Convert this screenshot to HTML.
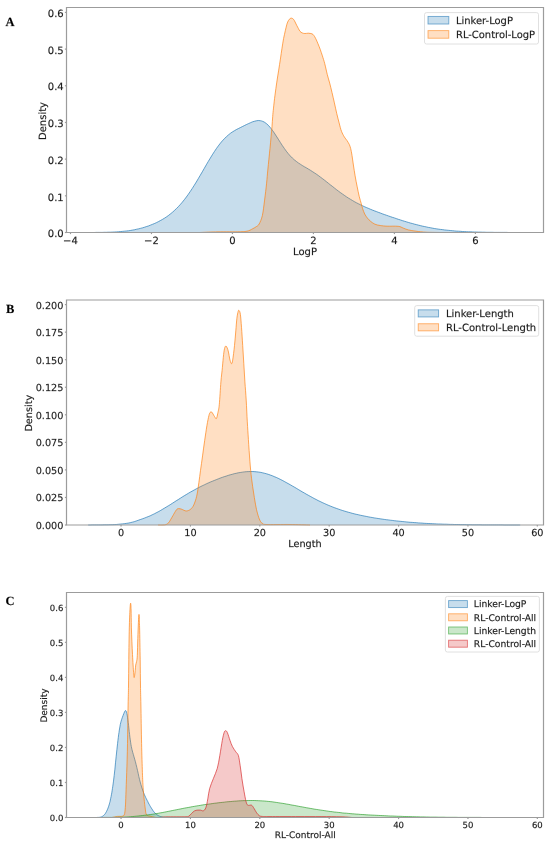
<!DOCTYPE html>
<html><head><meta charset="utf-8"><title>KDE plots</title>
<style>html,body{margin:0;padding:0;background:#fff;}svg{display:block;}</style></head><body>
<svg width="550" height="846" viewBox="0 0 550 846" style="font-family:'DejaVu Sans','Liberation Sans',sans-serif">
<style>text{fill:#1a1a1a;stroke:#1a1a1a;stroke-width:0.25px;stroke-opacity:0.60;text-rendering:geometricPrecision}</style>
<rect width="550" height="846" fill="#fff"/>
<path d="M88.3,232.5 C88.6,232.5 89.6,232.5 90.3,232.5 C91.0,232.5 91.6,232.5 92.3,232.5 C93.0,232.5 93.6,232.5 94.3,232.5 C95.0,232.5 95.6,232.4 96.3,232.4 C97.0,232.4 97.6,232.4 98.3,232.4 C99.0,232.4 99.6,232.4 100.3,232.4 C101.0,232.4 101.6,232.4 102.3,232.4 C103.0,232.4 103.6,232.4 104.3,232.3 C105.0,232.3 105.6,232.3 106.3,232.3 C107.0,232.3 107.6,232.3 108.3,232.2 C109.0,232.2 109.6,232.2 110.3,232.2 C111.0,232.2 111.6,232.1 112.3,232.1 C113.0,232.1 113.6,232.0 114.3,232.0 C115.0,232.0 115.6,231.9 116.3,231.9 C117.0,231.9 117.6,231.8 118.3,231.8 C119.0,231.7 119.6,231.7 120.3,231.6 C121.0,231.6 121.6,231.5 122.3,231.4 C123.0,231.4 123.6,231.3 124.3,231.2 C125.0,231.2 125.6,231.1 126.3,231.0 C127.0,230.9 127.6,230.8 128.3,230.8 C129.0,230.7 129.6,230.6 130.3,230.5 C131.0,230.4 131.6,230.2 132.3,230.1 C133.0,230.0 133.6,229.9 134.3,229.8 C135.0,229.6 135.6,229.5 136.3,229.3 C137.0,229.2 137.6,229.1 138.3,228.9 C139.0,228.7 139.6,228.6 140.3,228.4 C141.0,228.2 141.6,228.1 142.3,227.9 C143.0,227.7 143.6,227.5 144.3,227.3 C145.0,227.1 145.6,226.9 146.3,226.6 C147.0,226.4 147.6,226.2 148.3,226.0 C149.0,225.7 149.6,225.5 150.3,225.2 C151.0,225.0 151.6,224.7 152.3,224.4 C153.0,224.2 153.6,223.9 154.3,223.6 C155.0,223.3 155.6,223.0 156.3,222.7 C157.0,222.4 157.6,222.0 158.3,221.7 C159.0,221.4 159.6,221.0 160.3,220.6 C161.0,220.3 161.6,219.9 162.3,219.5 C163.0,219.1 163.6,218.7 164.3,218.3 C165.0,217.9 165.6,217.4 166.3,217.0 C167.0,216.5 167.6,216.1 168.3,215.6 C169.0,215.1 169.6,214.6 170.3,214.0 C171.0,213.5 171.6,213.0 172.3,212.4 C173.0,211.8 173.6,211.3 174.3,210.6 C175.0,210.0 175.6,209.4 176.3,208.7 C177.0,208.1 177.6,207.4 178.3,206.7 C179.0,206.0 179.6,205.3 180.3,204.5 C181.0,203.8 181.6,203.0 182.3,202.2 C183.0,201.4 183.6,200.6 184.3,199.7 C185.0,198.9 185.6,198.0 186.3,197.1 C187.0,196.2 187.6,195.3 188.3,194.3 C189.0,193.4 189.6,192.4 190.3,191.4 C191.0,190.4 191.6,189.4 192.3,188.4 C193.0,187.4 193.6,186.3 194.3,185.2 C195.0,184.2 195.6,183.1 196.3,182.0 C197.0,180.9 197.6,179.8 198.3,178.6 C199.0,177.5 199.6,176.4 200.3,175.2 C201.0,174.1 201.6,172.9 202.3,171.8 C203.0,170.6 203.6,169.5 204.3,168.3 C205.0,167.1 205.6,166.0 206.3,164.8 C207.0,163.7 207.6,162.6 208.3,161.4 C209.0,160.3 209.6,159.2 210.3,158.1 C211.0,157.0 211.6,155.9 212.3,154.8 C213.0,153.8 213.6,152.7 214.3,151.7 C215.0,150.7 215.6,149.7 216.3,148.7 C217.0,147.8 217.6,146.9 218.3,145.9 C219.0,145.0 219.6,144.2 220.3,143.3 C221.0,142.5 221.6,141.7 222.3,140.9 C223.0,140.2 223.6,139.4 224.3,138.8 C225.0,138.1 225.6,137.4 226.3,136.8 C227.0,136.2 227.6,135.6 228.3,135.0 C229.0,134.5 229.6,133.9 230.3,133.4 C231.0,132.9 231.6,132.5 232.3,132.0 C233.0,131.6 233.6,131.2 234.3,130.8 C235.0,130.4 235.6,130.0 236.3,129.6 C237.0,129.3 237.6,128.9 238.3,128.6 C239.0,128.2 239.6,127.9 240.3,127.6 C241.0,127.2 241.6,126.9 242.3,126.6 C243.0,126.3 243.6,125.9 244.3,125.6 C245.0,125.3 245.6,125.0 246.3,124.6 C247.0,124.3 247.6,124.0 248.3,123.7 C249.0,123.4 249.6,123.1 250.3,122.8 C251.0,122.5 251.6,122.2 252.3,121.9 C253.0,121.7 253.6,121.5 254.3,121.3 C255.0,121.1 255.6,120.9 256.3,120.8 C257.0,120.6 257.6,120.6 258.3,120.5 C259.0,120.5 259.6,120.6 260.3,120.7 C261.0,120.8 261.6,120.9 262.3,121.2 C263.0,121.4 263.6,121.7 264.3,122.1 C265.0,122.5 265.6,123.0 266.3,123.5 C267.0,124.0 267.6,124.6 268.3,125.3 C269.0,126.0 269.6,126.8 270.3,127.6 C271.0,128.4 271.6,129.2 272.3,130.2 C273.0,131.1 273.6,132.0 274.3,133.0 C275.0,134.0 275.6,135.0 276.3,136.1 C277.0,137.1 277.6,138.2 278.3,139.2 C279.0,140.3 279.6,141.4 280.3,142.4 C281.0,143.4 281.6,144.5 282.3,145.5 C283.0,146.5 283.6,147.5 284.3,148.4 C285.0,149.4 285.6,150.3 286.3,151.2 C287.0,152.1 287.6,152.9 288.3,153.7 C289.0,154.5 289.6,155.3 290.3,156.0 C291.0,156.7 291.6,157.4 292.3,158.0 C293.0,158.6 293.6,159.2 294.3,159.8 C295.0,160.4 295.6,160.9 296.3,161.4 C297.0,161.9 297.6,162.4 298.3,162.9 C299.0,163.3 299.6,163.8 300.3,164.2 C301.0,164.6 301.6,165.1 302.3,165.5 C303.0,165.9 303.6,166.3 304.3,166.7 C305.0,167.0 305.6,167.4 306.3,167.8 C307.0,168.2 307.6,168.6 308.3,169.0 C309.0,169.4 309.6,169.8 310.3,170.2 C311.0,170.6 311.6,171.0 312.3,171.5 C313.0,171.9 313.6,172.3 314.3,172.8 C315.0,173.2 315.6,173.7 316.3,174.1 C317.0,174.6 317.6,175.0 318.3,175.5 C319.0,176.0 319.6,176.5 320.3,177.0 C321.0,177.5 321.6,178.0 322.3,178.5 C323.0,179.0 323.6,179.5 324.3,180.0 C325.0,180.5 325.6,181.1 326.3,181.6 C327.0,182.1 327.6,182.6 328.3,183.2 C329.0,183.7 329.6,184.2 330.3,184.8 C331.0,185.3 331.6,185.8 332.3,186.3 C333.0,186.9 333.6,187.4 334.3,187.9 C335.0,188.4 335.6,189.0 336.3,189.5 C337.0,190.0 337.6,190.5 338.3,191.0 C339.0,191.5 339.6,192.0 340.3,192.5 C341.0,193.0 341.6,193.5 342.3,193.9 C343.0,194.4 343.6,194.9 344.3,195.3 C345.0,195.8 345.6,196.2 346.3,196.7 C347.0,197.1 347.6,197.6 348.3,198.0 C349.0,198.4 349.6,198.8 350.3,199.2 C351.0,199.6 351.6,200.0 352.3,200.4 C353.0,200.8 353.6,201.2 354.3,201.6 C355.0,201.9 355.6,202.3 356.3,202.7 C357.0,203.0 357.6,203.4 358.3,203.7 C359.0,204.0 359.6,204.4 360.3,204.7 C361.0,205.0 361.6,205.3 362.3,205.7 C363.0,206.0 363.6,206.3 364.3,206.6 C365.0,206.9 365.6,207.2 366.3,207.5 C367.0,207.8 367.6,208.0 368.3,208.3 C369.0,208.6 369.6,208.9 370.3,209.2 C371.0,209.4 371.6,209.7 372.3,210.0 C373.0,210.2 373.6,210.5 374.3,210.8 C375.0,211.0 375.6,211.3 376.3,211.5 C377.0,211.8 377.6,212.0 378.3,212.3 C379.0,212.5 379.6,212.8 380.3,213.0 C381.0,213.3 381.6,213.5 382.3,213.8 C383.0,214.0 383.6,214.2 384.3,214.5 C385.0,214.7 385.6,214.9 386.3,215.2 C387.0,215.4 387.6,215.7 388.3,215.9 C389.0,216.1 389.6,216.4 390.3,216.6 C391.0,216.8 391.6,217.0 392.3,217.3 C393.0,217.5 393.6,217.7 394.3,217.9 C395.0,218.2 395.6,218.4 396.3,218.6 C397.0,218.8 397.6,219.1 398.3,219.3 C399.0,219.5 399.6,219.7 400.3,219.9 C401.0,220.1 401.6,220.3 402.3,220.6 C403.0,220.8 403.6,221.0 404.3,221.2 C405.0,221.4 405.6,221.6 406.3,221.8 C407.0,222.0 407.6,222.2 408.3,222.4 C409.0,222.6 409.6,222.8 410.3,223.0 C411.0,223.2 411.6,223.3 412.3,223.5 C413.0,223.7 413.6,223.9 414.3,224.1 C415.0,224.2 415.6,224.4 416.3,224.6 C417.0,224.8 417.6,224.9 418.3,225.1 C419.0,225.3 419.6,225.4 420.3,225.6 C421.0,225.8 421.6,225.9 422.3,226.1 C423.0,226.2 423.6,226.4 424.3,226.5 C425.0,226.7 425.6,226.8 426.3,226.9 C427.0,227.1 427.6,227.2 428.3,227.4 C429.0,227.5 429.6,227.6 430.3,227.7 C431.0,227.9 431.6,228.0 432.3,228.1 C433.0,228.2 433.6,228.3 434.3,228.5 C435.0,228.6 435.6,228.7 436.3,228.8 C437.0,228.9 437.6,229.0 438.3,229.1 C439.0,229.2 439.6,229.3 440.3,229.4 C441.0,229.5 441.6,229.6 442.3,229.6 C443.0,229.7 443.6,229.8 444.3,229.9 C445.0,230.0 445.6,230.1 446.3,230.1 C447.0,230.2 447.6,230.3 448.3,230.3 C449.0,230.4 449.6,230.5 450.3,230.5 C451.0,230.6 451.6,230.7 452.3,230.7 C453.0,230.8 453.6,230.8 454.3,230.9 C455.0,231.0 455.6,231.0 456.3,231.1 C457.0,231.1 457.6,231.2 458.3,231.2 C459.0,231.3 459.6,231.3 460.3,231.3 C461.0,231.4 461.6,231.4 462.3,231.5 C463.0,231.5 463.6,231.5 464.3,231.6 C465.0,231.6 465.6,231.6 466.3,231.7 C467.0,231.7 467.6,231.7 468.3,231.8 C469.0,231.8 469.6,231.8 470.3,231.8 C471.0,231.9 471.6,231.9 472.3,231.9 C473.0,231.9 473.6,232.0 474.3,232.0 C475.0,232.0 475.6,232.0 476.3,232.0 C477.0,232.1 477.6,232.1 478.3,232.1 C479.0,232.1 479.6,232.1 480.3,232.1 C481.0,232.2 481.6,232.2 482.3,232.2 C483.0,232.2 483.6,232.2 484.3,232.2 C485.0,232.2 485.6,232.3 486.3,232.3 C487.0,232.3 487.6,232.3 488.3,232.3 C489.0,232.3 489.6,232.3 490.3,232.3 C491.0,232.3 491.6,232.3 492.3,232.3 C493.0,232.4 493.6,232.4 494.3,232.4 C495.0,232.4 495.6,232.4 496.3,232.4 C497.0,232.4 497.6,232.4 498.3,232.4 C499.0,232.4 499.6,232.4 500.3,232.4 C501.0,232.4 501.6,232.4 502.3,232.4 C503.0,232.4 503.6,232.4 504.3,232.4 C505.0,232.4 505.6,232.4 506.3,232.4 C507.0,232.4 507.6,232.4 508.3,232.5 C509.0,232.5 509.6,232.5 510.3,232.5 C511.0,232.5 511.6,232.5 512.3,232.5 C513.0,232.5 513.6,232.5 514.3,232.5 C515.0,232.5 515.6,232.5 516.3,232.5 C517.0,232.5 517.6,232.5 518.3,232.5 C519.0,232.5 520.0,232.5 520.3,232.5 L520.30,232.50 L88.30,232.50 Z" fill="rgba(31,119,180,0.25)" stroke="none"/>
<path d="M88.3,232.5 C88.6,232.5 89.6,232.5 90.3,232.5 C91.0,232.5 91.6,232.5 92.3,232.5 C93.0,232.5 93.6,232.5 94.3,232.5 C95.0,232.5 95.6,232.4 96.3,232.4 C97.0,232.4 97.6,232.4 98.3,232.4 C99.0,232.4 99.6,232.4 100.3,232.4 C101.0,232.4 101.6,232.4 102.3,232.4 C103.0,232.4 103.6,232.4 104.3,232.3 C105.0,232.3 105.6,232.3 106.3,232.3 C107.0,232.3 107.6,232.3 108.3,232.2 C109.0,232.2 109.6,232.2 110.3,232.2 C111.0,232.2 111.6,232.1 112.3,232.1 C113.0,232.1 113.6,232.0 114.3,232.0 C115.0,232.0 115.6,231.9 116.3,231.9 C117.0,231.9 117.6,231.8 118.3,231.8 C119.0,231.7 119.6,231.7 120.3,231.6 C121.0,231.6 121.6,231.5 122.3,231.4 C123.0,231.4 123.6,231.3 124.3,231.2 C125.0,231.2 125.6,231.1 126.3,231.0 C127.0,230.9 127.6,230.8 128.3,230.8 C129.0,230.7 129.6,230.6 130.3,230.5 C131.0,230.4 131.6,230.2 132.3,230.1 C133.0,230.0 133.6,229.9 134.3,229.8 C135.0,229.6 135.6,229.5 136.3,229.3 C137.0,229.2 137.6,229.1 138.3,228.9 C139.0,228.7 139.6,228.6 140.3,228.4 C141.0,228.2 141.6,228.1 142.3,227.9 C143.0,227.7 143.6,227.5 144.3,227.3 C145.0,227.1 145.6,226.9 146.3,226.6 C147.0,226.4 147.6,226.2 148.3,226.0 C149.0,225.7 149.6,225.5 150.3,225.2 C151.0,225.0 151.6,224.7 152.3,224.4 C153.0,224.2 153.6,223.9 154.3,223.6 C155.0,223.3 155.6,223.0 156.3,222.7 C157.0,222.4 157.6,222.0 158.3,221.7 C159.0,221.4 159.6,221.0 160.3,220.6 C161.0,220.3 161.6,219.9 162.3,219.5 C163.0,219.1 163.6,218.7 164.3,218.3 C165.0,217.9 165.6,217.4 166.3,217.0 C167.0,216.5 167.6,216.1 168.3,215.6 C169.0,215.1 169.6,214.6 170.3,214.0 C171.0,213.5 171.6,213.0 172.3,212.4 C173.0,211.8 173.6,211.3 174.3,210.6 C175.0,210.0 175.6,209.4 176.3,208.7 C177.0,208.1 177.6,207.4 178.3,206.7 C179.0,206.0 179.6,205.3 180.3,204.5 C181.0,203.8 181.6,203.0 182.3,202.2 C183.0,201.4 183.6,200.6 184.3,199.7 C185.0,198.9 185.6,198.0 186.3,197.1 C187.0,196.2 187.6,195.3 188.3,194.3 C189.0,193.4 189.6,192.4 190.3,191.4 C191.0,190.4 191.6,189.4 192.3,188.4 C193.0,187.4 193.6,186.3 194.3,185.2 C195.0,184.2 195.6,183.1 196.3,182.0 C197.0,180.9 197.6,179.8 198.3,178.6 C199.0,177.5 199.6,176.4 200.3,175.2 C201.0,174.1 201.6,172.9 202.3,171.8 C203.0,170.6 203.6,169.5 204.3,168.3 C205.0,167.1 205.6,166.0 206.3,164.8 C207.0,163.7 207.6,162.6 208.3,161.4 C209.0,160.3 209.6,159.2 210.3,158.1 C211.0,157.0 211.6,155.9 212.3,154.8 C213.0,153.8 213.6,152.7 214.3,151.7 C215.0,150.7 215.6,149.7 216.3,148.7 C217.0,147.8 217.6,146.9 218.3,145.9 C219.0,145.0 219.6,144.2 220.3,143.3 C221.0,142.5 221.6,141.7 222.3,140.9 C223.0,140.2 223.6,139.4 224.3,138.8 C225.0,138.1 225.6,137.4 226.3,136.8 C227.0,136.2 227.6,135.6 228.3,135.0 C229.0,134.5 229.6,133.9 230.3,133.4 C231.0,132.9 231.6,132.5 232.3,132.0 C233.0,131.6 233.6,131.2 234.3,130.8 C235.0,130.4 235.6,130.0 236.3,129.6 C237.0,129.3 237.6,128.9 238.3,128.6 C239.0,128.2 239.6,127.9 240.3,127.6 C241.0,127.2 241.6,126.9 242.3,126.6 C243.0,126.3 243.6,125.9 244.3,125.6 C245.0,125.3 245.6,125.0 246.3,124.6 C247.0,124.3 247.6,124.0 248.3,123.7 C249.0,123.4 249.6,123.1 250.3,122.8 C251.0,122.5 251.6,122.2 252.3,121.9 C253.0,121.7 253.6,121.5 254.3,121.3 C255.0,121.1 255.6,120.9 256.3,120.8 C257.0,120.6 257.6,120.6 258.3,120.5 C259.0,120.5 259.6,120.6 260.3,120.7 C261.0,120.8 261.6,120.9 262.3,121.2 C263.0,121.4 263.6,121.7 264.3,122.1 C265.0,122.5 265.6,123.0 266.3,123.5 C267.0,124.0 267.6,124.6 268.3,125.3 C269.0,126.0 269.6,126.8 270.3,127.6 C271.0,128.4 271.6,129.2 272.3,130.2 C273.0,131.1 273.6,132.0 274.3,133.0 C275.0,134.0 275.6,135.0 276.3,136.1 C277.0,137.1 277.6,138.2 278.3,139.2 C279.0,140.3 279.6,141.4 280.3,142.4 C281.0,143.4 281.6,144.5 282.3,145.5 C283.0,146.5 283.6,147.5 284.3,148.4 C285.0,149.4 285.6,150.3 286.3,151.2 C287.0,152.1 287.6,152.9 288.3,153.7 C289.0,154.5 289.6,155.3 290.3,156.0 C291.0,156.7 291.6,157.4 292.3,158.0 C293.0,158.6 293.6,159.2 294.3,159.8 C295.0,160.4 295.6,160.9 296.3,161.4 C297.0,161.9 297.6,162.4 298.3,162.9 C299.0,163.3 299.6,163.8 300.3,164.2 C301.0,164.6 301.6,165.1 302.3,165.5 C303.0,165.9 303.6,166.3 304.3,166.7 C305.0,167.0 305.6,167.4 306.3,167.8 C307.0,168.2 307.6,168.6 308.3,169.0 C309.0,169.4 309.6,169.8 310.3,170.2 C311.0,170.6 311.6,171.0 312.3,171.5 C313.0,171.9 313.6,172.3 314.3,172.8 C315.0,173.2 315.6,173.7 316.3,174.1 C317.0,174.6 317.6,175.0 318.3,175.5 C319.0,176.0 319.6,176.5 320.3,177.0 C321.0,177.5 321.6,178.0 322.3,178.5 C323.0,179.0 323.6,179.5 324.3,180.0 C325.0,180.5 325.6,181.1 326.3,181.6 C327.0,182.1 327.6,182.6 328.3,183.2 C329.0,183.7 329.6,184.2 330.3,184.8 C331.0,185.3 331.6,185.8 332.3,186.3 C333.0,186.9 333.6,187.4 334.3,187.9 C335.0,188.4 335.6,189.0 336.3,189.5 C337.0,190.0 337.6,190.5 338.3,191.0 C339.0,191.5 339.6,192.0 340.3,192.5 C341.0,193.0 341.6,193.5 342.3,193.9 C343.0,194.4 343.6,194.9 344.3,195.3 C345.0,195.8 345.6,196.2 346.3,196.7 C347.0,197.1 347.6,197.6 348.3,198.0 C349.0,198.4 349.6,198.8 350.3,199.2 C351.0,199.6 351.6,200.0 352.3,200.4 C353.0,200.8 353.6,201.2 354.3,201.6 C355.0,201.9 355.6,202.3 356.3,202.7 C357.0,203.0 357.6,203.4 358.3,203.7 C359.0,204.0 359.6,204.4 360.3,204.7 C361.0,205.0 361.6,205.3 362.3,205.7 C363.0,206.0 363.6,206.3 364.3,206.6 C365.0,206.9 365.6,207.2 366.3,207.5 C367.0,207.8 367.6,208.0 368.3,208.3 C369.0,208.6 369.6,208.9 370.3,209.2 C371.0,209.4 371.6,209.7 372.3,210.0 C373.0,210.2 373.6,210.5 374.3,210.8 C375.0,211.0 375.6,211.3 376.3,211.5 C377.0,211.8 377.6,212.0 378.3,212.3 C379.0,212.5 379.6,212.8 380.3,213.0 C381.0,213.3 381.6,213.5 382.3,213.8 C383.0,214.0 383.6,214.2 384.3,214.5 C385.0,214.7 385.6,214.9 386.3,215.2 C387.0,215.4 387.6,215.7 388.3,215.9 C389.0,216.1 389.6,216.4 390.3,216.6 C391.0,216.8 391.6,217.0 392.3,217.3 C393.0,217.5 393.6,217.7 394.3,217.9 C395.0,218.2 395.6,218.4 396.3,218.6 C397.0,218.8 397.6,219.1 398.3,219.3 C399.0,219.5 399.6,219.7 400.3,219.9 C401.0,220.1 401.6,220.3 402.3,220.6 C403.0,220.8 403.6,221.0 404.3,221.2 C405.0,221.4 405.6,221.6 406.3,221.8 C407.0,222.0 407.6,222.2 408.3,222.4 C409.0,222.6 409.6,222.8 410.3,223.0 C411.0,223.2 411.6,223.3 412.3,223.5 C413.0,223.7 413.6,223.9 414.3,224.1 C415.0,224.2 415.6,224.4 416.3,224.6 C417.0,224.8 417.6,224.9 418.3,225.1 C419.0,225.3 419.6,225.4 420.3,225.6 C421.0,225.8 421.6,225.9 422.3,226.1 C423.0,226.2 423.6,226.4 424.3,226.5 C425.0,226.7 425.6,226.8 426.3,226.9 C427.0,227.1 427.6,227.2 428.3,227.4 C429.0,227.5 429.6,227.6 430.3,227.7 C431.0,227.9 431.6,228.0 432.3,228.1 C433.0,228.2 433.6,228.3 434.3,228.5 C435.0,228.6 435.6,228.7 436.3,228.8 C437.0,228.9 437.6,229.0 438.3,229.1 C439.0,229.2 439.6,229.3 440.3,229.4 C441.0,229.5 441.6,229.6 442.3,229.6 C443.0,229.7 443.6,229.8 444.3,229.9 C445.0,230.0 445.6,230.1 446.3,230.1 C447.0,230.2 447.6,230.3 448.3,230.3 C449.0,230.4 449.6,230.5 450.3,230.5 C451.0,230.6 451.6,230.7 452.3,230.7 C453.0,230.8 453.6,230.8 454.3,230.9 C455.0,231.0 455.6,231.0 456.3,231.1 C457.0,231.1 457.6,231.2 458.3,231.2 C459.0,231.3 459.6,231.3 460.3,231.3 C461.0,231.4 461.6,231.4 462.3,231.5 C463.0,231.5 463.6,231.5 464.3,231.6 C465.0,231.6 465.6,231.6 466.3,231.7 C467.0,231.7 467.6,231.7 468.3,231.8 C469.0,231.8 469.6,231.8 470.3,231.8 C471.0,231.9 471.6,231.9 472.3,231.9 C473.0,231.9 473.6,232.0 474.3,232.0 C475.0,232.0 475.6,232.0 476.3,232.0 C477.0,232.1 477.6,232.1 478.3,232.1 C479.0,232.1 479.6,232.1 480.3,232.1 C481.0,232.2 481.6,232.2 482.3,232.2 C483.0,232.2 483.6,232.2 484.3,232.2 C485.0,232.2 485.6,232.3 486.3,232.3 C487.0,232.3 487.6,232.3 488.3,232.3 C489.0,232.3 489.6,232.3 490.3,232.3 C491.0,232.3 491.6,232.3 492.3,232.3 C493.0,232.4 493.6,232.4 494.3,232.4 C495.0,232.4 495.6,232.4 496.3,232.4 C497.0,232.4 497.6,232.4 498.3,232.4 C499.0,232.4 499.6,232.4 500.3,232.4 C501.0,232.4 501.6,232.4 502.3,232.4 C503.0,232.4 503.6,232.4 504.3,232.4 C505.0,232.4 505.6,232.4 506.3,232.4 C507.0,232.4 507.6,232.4 508.3,232.5 C509.0,232.5 509.6,232.5 510.3,232.5 C511.0,232.5 511.6,232.5 512.3,232.5 C513.0,232.5 513.6,232.5 514.3,232.5 C515.0,232.5 515.6,232.5 516.3,232.5 C517.0,232.5 517.6,232.5 518.3,232.5 C519.0,232.5 520.0,232.5 520.3,232.5" fill="none" stroke="#1f77b4" stroke-width="0.9" stroke-opacity="0.75" stroke-linejoin="round"/>
<path d="M200.0,232.5 C202.6,232.4 209.3,232.0 215.5,231.9 C221.7,231.8 232.1,231.9 237.3,231.8 C242.6,231.7 244.4,231.7 247.0,231.2 C249.6,230.7 251.0,229.6 252.6,228.8 C254.2,228.0 255.4,227.3 256.5,226.5 C257.6,225.7 258.1,225.9 259.1,224.1 C260.1,222.2 261.5,219.4 262.4,215.4 C263.3,211.4 263.9,205.4 264.6,200.1 C265.3,194.7 266.1,188.1 266.6,183.2 C267.1,178.2 267.4,174.1 267.8,170.1 C268.2,166.2 268.5,162.9 268.9,159.2 C269.3,155.6 269.6,152.1 270.0,148.3 C270.4,144.5 270.8,140.0 271.1,136.3 C271.4,132.7 271.7,129.8 272.0,126.5 C272.3,123.2 272.4,119.7 272.7,116.6 C272.9,113.5 273.1,111.7 273.5,108.1 C273.9,104.5 274.4,99.4 275.0,95.1 C275.6,90.7 276.2,86.2 276.8,82.1 C277.4,77.9 278.1,73.9 278.7,70.1 C279.3,66.2 279.8,62.8 280.4,59.1 C280.9,55.5 281.5,51.7 282.0,48.2 C282.5,44.8 283.1,41.3 283.6,38.4 C284.2,35.5 284.8,33.1 285.3,30.7 C285.9,28.4 286.4,25.9 286.9,24.2 C287.4,22.5 287.9,21.4 288.5,20.4 C289.1,19.5 289.6,18.9 290.2,18.5 C290.8,18.1 291.2,18.1 291.8,18.2 C292.4,18.3 292.9,18.7 293.5,19.3 C294.1,19.9 294.6,21.0 295.1,22.0 C295.6,23.0 296.1,24.2 296.7,25.3 C297.2,26.4 297.8,27.5 298.4,28.5 C298.9,29.5 299.4,30.6 300.0,31.3 C300.6,32.1 301.4,32.6 302.2,32.9 C303.0,33.3 303.9,33.5 304.9,33.5 C305.9,33.6 307.2,33.2 308.2,33.2 C309.2,33.2 310.1,33.3 310.9,33.5 C311.7,33.7 312.5,34.0 313.1,34.5 C313.7,35.1 314.1,35.8 314.7,36.7 C315.2,37.6 315.8,38.8 316.4,40.0 C316.9,41.2 317.4,42.3 318.0,43.8 C318.6,45.4 319.5,47.3 320.2,49.3 C320.9,51.3 321.6,53.5 322.4,55.8 C323.1,58.2 323.9,60.4 324.7,63.5 C325.5,66.7 326.5,71.3 327.3,74.6 C328.1,77.8 328.9,80.1 329.7,83.1 C330.5,86.1 331.2,89.2 332.0,92.5 C332.8,95.8 333.6,99.4 334.4,102.9 C335.2,106.4 335.9,110.0 336.7,113.3 C337.5,116.6 338.3,119.8 339.1,122.8 C339.9,125.8 340.6,129.0 341.5,131.3 C342.4,133.7 343.4,135.3 344.3,136.9 C345.2,138.5 346.3,139.5 347.1,140.7 C347.9,142.0 348.7,143.2 349.3,144.5 C349.9,145.8 350.2,146.8 350.7,148.6 C351.1,150.4 351.6,152.7 352.0,155.4 C352.4,158.2 352.9,161.6 353.4,165.0 C353.9,168.4 354.5,172.2 355.1,175.8 C355.7,179.5 356.5,183.4 357.2,186.8 C357.9,190.2 358.5,193.4 359.2,196.3 C359.9,199.1 360.7,201.7 361.3,203.8 C361.9,205.8 362.0,206.9 362.6,208.6 C363.2,210.3 363.9,212.4 364.7,214.0 C365.5,215.6 366.4,216.8 367.4,218.1 C368.4,219.3 369.6,220.5 370.8,221.5 C372.1,222.5 373.3,223.5 374.9,224.2 C376.5,224.9 378.3,225.2 380.3,225.5 C382.3,225.8 384.1,226.1 387.1,226.2 C390.1,226.3 395.5,226.0 398.2,226.3 C400.9,226.6 401.6,227.5 403.3,228.1 C405.0,228.7 406.2,229.4 408.3,229.9 C410.4,230.4 413.0,230.8 416.0,231.2 C419.0,231.6 422.2,232.0 426.2,232.2 C430.2,232.4 437.7,232.4 440.0,232.5 L440.00,232.50 L200.00,232.50 Z" fill="rgba(255,127,14,0.25)" stroke="none"/>
<path d="M200.0,232.5 C202.6,232.4 209.3,232.0 215.5,231.9 C221.7,231.8 232.1,231.9 237.3,231.8 C242.6,231.7 244.4,231.7 247.0,231.2 C249.6,230.7 251.0,229.6 252.6,228.8 C254.2,228.0 255.4,227.3 256.5,226.5 C257.6,225.7 258.1,225.9 259.1,224.1 C260.1,222.2 261.5,219.4 262.4,215.4 C263.3,211.4 263.9,205.4 264.6,200.1 C265.3,194.7 266.1,188.1 266.6,183.2 C267.1,178.2 267.4,174.1 267.8,170.1 C268.2,166.2 268.5,162.9 268.9,159.2 C269.3,155.6 269.6,152.1 270.0,148.3 C270.4,144.5 270.8,140.0 271.1,136.3 C271.4,132.7 271.7,129.8 272.0,126.5 C272.3,123.2 272.4,119.7 272.7,116.6 C272.9,113.5 273.1,111.7 273.5,108.1 C273.9,104.5 274.4,99.4 275.0,95.1 C275.6,90.7 276.2,86.2 276.8,82.1 C277.4,77.9 278.1,73.9 278.7,70.1 C279.3,66.2 279.8,62.8 280.4,59.1 C280.9,55.5 281.5,51.7 282.0,48.2 C282.5,44.8 283.1,41.3 283.6,38.4 C284.2,35.5 284.8,33.1 285.3,30.7 C285.9,28.4 286.4,25.9 286.9,24.2 C287.4,22.5 287.9,21.4 288.5,20.4 C289.1,19.5 289.6,18.9 290.2,18.5 C290.8,18.1 291.2,18.1 291.8,18.2 C292.4,18.3 292.9,18.7 293.5,19.3 C294.1,19.9 294.6,21.0 295.1,22.0 C295.6,23.0 296.1,24.2 296.7,25.3 C297.2,26.4 297.8,27.5 298.4,28.5 C298.9,29.5 299.4,30.6 300.0,31.3 C300.6,32.1 301.4,32.6 302.2,32.9 C303.0,33.3 303.9,33.5 304.9,33.5 C305.9,33.6 307.2,33.2 308.2,33.2 C309.2,33.2 310.1,33.3 310.9,33.5 C311.7,33.7 312.5,34.0 313.1,34.5 C313.7,35.1 314.1,35.8 314.7,36.7 C315.2,37.6 315.8,38.8 316.4,40.0 C316.9,41.2 317.4,42.3 318.0,43.8 C318.6,45.4 319.5,47.3 320.2,49.3 C320.9,51.3 321.6,53.5 322.4,55.8 C323.1,58.2 323.9,60.4 324.7,63.5 C325.5,66.7 326.5,71.3 327.3,74.6 C328.1,77.8 328.9,80.1 329.7,83.1 C330.5,86.1 331.2,89.2 332.0,92.5 C332.8,95.8 333.6,99.4 334.4,102.9 C335.2,106.4 335.9,110.0 336.7,113.3 C337.5,116.6 338.3,119.8 339.1,122.8 C339.9,125.8 340.6,129.0 341.5,131.3 C342.4,133.7 343.4,135.3 344.3,136.9 C345.2,138.5 346.3,139.5 347.1,140.7 C347.9,142.0 348.7,143.2 349.3,144.5 C349.9,145.8 350.2,146.8 350.7,148.6 C351.1,150.4 351.6,152.7 352.0,155.4 C352.4,158.2 352.9,161.6 353.4,165.0 C353.9,168.4 354.5,172.2 355.1,175.8 C355.7,179.5 356.5,183.4 357.2,186.8 C357.9,190.2 358.5,193.4 359.2,196.3 C359.9,199.1 360.7,201.7 361.3,203.8 C361.9,205.8 362.0,206.9 362.6,208.6 C363.2,210.3 363.9,212.4 364.7,214.0 C365.5,215.6 366.4,216.8 367.4,218.1 C368.4,219.3 369.6,220.5 370.8,221.5 C372.1,222.5 373.3,223.5 374.9,224.2 C376.5,224.9 378.3,225.2 380.3,225.5 C382.3,225.8 384.1,226.1 387.1,226.2 C390.1,226.3 395.5,226.0 398.2,226.3 C400.9,226.6 401.6,227.5 403.3,228.1 C405.0,228.7 406.2,229.4 408.3,229.9 C410.4,230.4 413.0,230.8 416.0,231.2 C419.0,231.6 422.2,232.0 426.2,232.2 C430.2,232.4 437.7,232.4 440.0,232.5" fill="none" stroke="#ff7f0e" stroke-width="0.9" stroke-opacity="0.75" stroke-linejoin="round"/>
<path d="M65.90,7.50 H544.10 M65.90,232.50 H544.10 M66.50,7.50 V232.50 M543.50,7.50 V232.50" fill="none" stroke="#9c9c9c" stroke-width="1.2"/>
<g style="font-size:10.00px"><line x1="64.90" y1="232.50" x2="66.50" y2="232.50" stroke="#9c9c9c" stroke-width="1.2"/><text x="63.70" y="237.20" text-anchor="end">0.0</text>
<line x1="64.90" y1="195.82" x2="66.50" y2="195.82" stroke="#9c9c9c" stroke-width="1.2"/><text x="63.70" y="200.52" text-anchor="end">0.1</text>
<line x1="64.90" y1="159.14" x2="66.50" y2="159.14" stroke="#9c9c9c" stroke-width="1.2"/><text x="63.70" y="163.84" text-anchor="end">0.2</text>
<line x1="64.90" y1="122.46" x2="66.50" y2="122.46" stroke="#9c9c9c" stroke-width="1.2"/><text x="63.70" y="127.16" text-anchor="end">0.3</text>
<line x1="64.90" y1="85.78" x2="66.50" y2="85.78" stroke="#9c9c9c" stroke-width="1.2"/><text x="63.70" y="90.48" text-anchor="end">0.4</text>
<line x1="64.90" y1="49.10" x2="66.50" y2="49.10" stroke="#9c9c9c" stroke-width="1.2"/><text x="63.70" y="53.80" text-anchor="end">0.5</text>
<line x1="64.90" y1="12.42" x2="66.50" y2="12.42" stroke="#9c9c9c" stroke-width="1.2"/><text x="63.70" y="17.12" text-anchor="end">0.6</text>
</g>
<g style="font-size:10.00px"><line x1="70.49" y1="232.50" x2="70.49" y2="234.10" stroke="#9c9c9c" stroke-width="1.2"/><text x="70.49" y="243.70" text-anchor="middle">−4</text>
<line x1="151.47" y1="232.50" x2="151.47" y2="234.10" stroke="#9c9c9c" stroke-width="1.2"/><text x="151.47" y="243.70" text-anchor="middle">−2</text>
<line x1="232.45" y1="232.50" x2="232.45" y2="234.10" stroke="#9c9c9c" stroke-width="1.2"/><text x="232.45" y="243.70" text-anchor="middle">0</text>
<line x1="313.43" y1="232.50" x2="313.43" y2="234.10" stroke="#9c9c9c" stroke-width="1.2"/><text x="313.43" y="243.70" text-anchor="middle">2</text>
<line x1="394.41" y1="232.50" x2="394.41" y2="234.10" stroke="#9c9c9c" stroke-width="1.2"/><text x="394.41" y="243.70" text-anchor="middle">4</text>
<line x1="475.39" y1="232.50" x2="475.39" y2="234.10" stroke="#9c9c9c" stroke-width="1.2"/><text x="475.39" y="243.70" text-anchor="middle">6</text>
</g>
<text x="305.00" y="255.00" text-anchor="middle" style="font-size:10.00px">LogP</text>
<text transform="translate(45.50,121.00) rotate(-90)" text-anchor="middle" style="font-size:10.00px">Density</text>
<rect x="424.50" y="12.60" width="114.00" height="31.40" rx="2" fill="#fff" fill-opacity="0.8" stroke="#d8d8d8" stroke-width="0.8"/>
<rect x="428.00" y="16.42" width="20.80" height="7.60" fill="rgba(31,119,180,0.25)" stroke="#1f77b4" stroke-opacity="0.6" stroke-width="0.9"/><text x="456.00" y="23.80" style="font-size:9.95px">Linker-LogP</text>
<rect x="428.00" y="30.62" width="20.80" height="7.60" fill="rgba(255,127,14,0.25)" stroke="#ff7f0e" stroke-opacity="0.6" stroke-width="0.9"/><text x="456.00" y="38.00" style="font-size:9.95px">RL-Control-LogP</text>
<text x="5.60" y="26.00" style="font-family:'Liberation Serif',serif;font-weight:bold;font-size:12.5px;fill:#000">A</text>
<path d="M88.2,525.0 C88.5,525.0 89.5,525.0 90.2,525.0 C90.9,525.0 91.5,525.0 92.2,524.9 C92.9,524.9 93.5,524.9 94.2,524.9 C94.9,524.9 95.5,524.9 96.2,524.9 C96.9,524.9 97.5,524.9 98.2,524.9 C98.9,524.9 99.5,524.9 100.2,524.9 C100.9,524.9 101.5,524.9 102.2,524.9 C102.9,524.9 103.5,524.8 104.2,524.8 C104.9,524.8 105.5,524.8 106.2,524.8 C106.9,524.8 107.5,524.8 108.2,524.8 C108.9,524.8 109.5,524.7 110.2,524.7 C110.9,524.7 111.5,524.7 112.2,524.7 C112.9,524.6 113.5,524.6 114.2,524.6 C114.9,524.5 115.5,524.5 116.2,524.5 C116.9,524.4 117.5,524.4 118.2,524.3 C118.9,524.3 119.5,524.2 120.2,524.1 C120.9,524.1 121.5,524.0 122.2,523.9 C122.9,523.9 123.5,523.8 124.2,523.7 C124.9,523.6 125.5,523.5 126.2,523.4 C126.9,523.3 127.5,523.2 128.2,523.1 C128.9,522.9 129.5,522.8 130.2,522.7 C130.9,522.5 131.5,522.4 132.2,522.2 C132.9,522.0 133.5,521.8 134.2,521.7 C134.9,521.5 135.5,521.3 136.2,521.0 C136.9,520.8 137.5,520.6 138.2,520.3 C138.9,520.1 139.5,519.8 140.2,519.6 C140.9,519.3 141.5,519.1 142.2,518.9 C142.9,518.7 143.5,518.4 144.2,518.2 C144.9,518.0 145.5,517.7 146.2,517.4 C146.9,517.2 147.5,516.9 148.2,516.6 C148.9,516.3 149.5,516.1 150.2,515.8 C150.9,515.5 151.5,515.2 152.2,514.8 C152.9,514.5 153.5,514.2 154.2,513.9 C154.9,513.5 155.5,513.2 156.2,512.8 C156.9,512.5 157.5,512.1 158.2,511.8 C158.9,511.4 159.5,511.0 160.2,510.7 C160.9,510.3 161.5,509.9 162.2,509.5 C162.9,509.1 163.5,508.7 164.2,508.3 C164.9,507.9 165.5,507.5 166.2,507.1 C166.9,506.7 167.5,506.3 168.2,505.9 C168.9,505.5 169.5,505.1 170.2,504.7 C170.9,504.2 171.5,503.8 172.2,503.4 C172.9,503.0 173.5,502.5 174.2,502.1 C174.9,501.7 175.5,501.3 176.2,500.8 C176.9,500.4 177.5,500.0 178.2,499.6 C178.9,499.1 179.5,498.7 180.2,498.3 C180.9,497.9 181.5,497.5 182.2,497.0 C182.9,496.6 183.5,496.2 184.2,495.8 C184.9,495.4 185.5,495.0 186.2,494.6 C186.9,494.2 187.5,493.8 188.2,493.4 C188.9,493.0 189.5,492.6 190.2,492.2 C190.9,491.8 191.5,491.5 192.2,491.1 C192.9,490.7 193.5,490.3 194.2,490.0 C194.9,489.6 195.5,489.2 196.2,488.9 C196.9,488.5 197.5,488.2 198.2,487.8 C198.9,487.5 199.5,487.1 200.2,486.8 C200.9,486.5 201.5,486.1 202.2,485.8 C202.9,485.5 203.5,485.2 204.2,484.9 C204.9,484.5 205.5,484.2 206.2,483.9 C206.9,483.6 207.5,483.3 208.2,483.0 C208.9,482.7 209.5,482.4 210.2,482.1 C210.9,481.8 211.5,481.6 212.2,481.3 C212.9,481.0 213.5,480.7 214.2,480.5 C214.9,480.2 215.5,479.9 216.2,479.7 C216.9,479.4 217.5,479.1 218.2,478.9 C218.9,478.6 219.5,478.4 220.2,478.1 C220.9,477.9 221.5,477.6 222.2,477.4 C222.9,477.2 223.5,476.9 224.2,476.7 C224.9,476.5 225.5,476.3 226.2,476.1 C226.9,475.8 227.5,475.6 228.2,475.4 C228.9,475.2 229.5,475.0 230.2,474.8 C230.9,474.6 231.5,474.4 232.2,474.3 C232.9,474.1 233.5,473.9 234.2,473.7 C234.9,473.6 235.5,473.4 236.2,473.3 C236.9,473.1 237.5,473.0 238.2,472.8 C238.9,472.7 239.5,472.6 240.2,472.5 C240.9,472.4 241.5,472.3 242.2,472.2 C242.9,472.1 243.5,472.0 244.2,471.9 C244.9,471.8 245.5,471.8 246.2,471.7 C246.9,471.7 247.5,471.6 248.2,471.6 C248.9,471.5 249.5,471.5 250.2,471.5 C250.9,471.5 251.5,471.5 252.2,471.5 C252.9,471.5 253.5,471.6 254.2,471.6 C254.9,471.7 255.5,471.7 256.2,471.8 C256.9,471.8 257.5,471.9 258.2,472.0 C258.9,472.1 259.5,472.2 260.2,472.3 C260.9,472.4 261.5,472.6 262.2,472.7 C262.9,472.9 263.5,473.0 264.2,473.2 C264.9,473.3 265.5,473.5 266.2,473.7 C266.9,473.9 267.5,474.1 268.2,474.3 C268.9,474.5 269.5,474.8 270.2,475.0 C270.9,475.2 271.5,475.5 272.2,475.7 C272.9,476.0 273.5,476.3 274.2,476.6 C274.9,476.8 275.5,477.1 276.2,477.4 C276.9,477.7 277.5,478.0 278.2,478.3 C278.9,478.7 279.5,479.0 280.2,479.3 C280.9,479.6 281.5,480.0 282.2,480.3 C282.9,480.7 283.5,481.0 284.2,481.4 C284.9,481.7 285.5,482.1 286.2,482.5 C286.9,482.8 287.5,483.2 288.2,483.6 C288.9,483.9 289.5,484.3 290.2,484.7 C290.9,485.1 291.5,485.5 292.2,485.9 C292.9,486.3 293.5,486.6 294.2,487.0 C294.9,487.4 295.5,487.8 296.2,488.2 C296.9,488.6 297.5,489.0 298.2,489.4 C298.9,489.8 299.5,490.2 300.2,490.6 C300.9,491.0 301.5,491.4 302.2,491.8 C302.9,492.1 303.5,492.5 304.2,492.9 C304.9,493.3 305.5,493.7 306.2,494.1 C306.9,494.5 307.5,494.8 308.2,495.2 C308.9,495.6 309.5,496.0 310.2,496.3 C310.9,496.7 311.5,497.1 312.2,497.4 C312.9,497.8 313.5,498.1 314.2,498.5 C314.9,498.8 315.5,499.2 316.2,499.5 C316.9,499.9 317.5,500.2 318.2,500.6 C318.9,500.9 319.5,501.2 320.2,501.5 C320.9,501.9 321.5,502.2 322.2,502.5 C322.9,502.8 323.5,503.1 324.2,503.4 C324.9,503.7 325.5,504.0 326.2,504.3 C326.9,504.6 327.5,504.9 328.2,505.2 C328.9,505.5 329.5,505.8 330.2,506.0 C330.9,506.3 331.5,506.6 332.2,506.8 C332.9,507.1 333.5,507.3 334.2,507.6 C334.9,507.8 335.5,508.1 336.2,508.3 C336.9,508.6 337.5,508.8 338.2,509.0 C338.9,509.3 339.5,509.5 340.2,509.7 C340.9,509.9 341.5,510.2 342.2,510.4 C342.9,510.6 343.5,510.8 344.2,511.0 C344.9,511.2 345.5,511.4 346.2,511.6 C346.9,511.8 347.5,512.0 348.2,512.2 C348.9,512.4 349.5,512.6 350.2,512.7 C350.9,512.9 351.5,513.1 352.2,513.3 C352.9,513.4 353.5,513.6 354.2,513.8 C354.9,513.9 355.5,514.1 356.2,514.3 C356.9,514.4 357.5,514.6 358.2,514.7 C358.9,514.9 359.5,515.0 360.2,515.2 C360.9,515.3 361.5,515.5 362.2,515.6 C362.9,515.7 363.5,515.9 364.2,516.0 C364.9,516.2 365.5,516.3 366.2,516.4 C366.9,516.5 367.5,516.7 368.2,516.8 C368.9,516.9 369.5,517.0 370.2,517.2 C370.9,517.3 371.5,517.4 372.2,517.5 C372.9,517.6 373.5,517.8 374.2,517.9 C374.9,518.0 375.5,518.1 376.2,518.2 C376.9,518.3 377.5,518.4 378.2,518.5 C378.9,518.6 379.5,518.7 380.2,518.8 C380.9,518.9 381.5,519.0 382.2,519.1 C382.9,519.2 383.5,519.3 384.2,519.4 C384.9,519.5 385.5,519.6 386.2,519.7 C386.9,519.8 387.5,519.8 388.2,519.9 C388.9,520.0 389.5,520.1 390.2,520.2 C390.9,520.3 391.5,520.4 392.2,520.4 C392.9,520.5 393.5,520.6 394.2,520.7 C394.9,520.7 395.5,520.8 396.2,520.9 C396.9,521.0 397.5,521.0 398.2,521.1 C398.9,521.2 399.5,521.3 400.2,521.3 C400.9,521.4 401.5,521.5 402.2,521.5 C402.9,521.6 403.5,521.7 404.2,521.7 C404.9,521.8 405.5,521.9 406.2,521.9 C406.9,522.0 407.5,522.0 408.2,522.1 C408.9,522.1 409.5,522.2 410.2,522.3 C410.9,522.3 411.5,522.4 412.2,522.4 C412.9,522.5 413.5,522.5 414.2,522.6 C414.9,522.6 415.5,522.7 416.2,522.7 C416.9,522.8 417.5,522.8 418.2,522.9 C418.9,522.9 419.5,523.0 420.2,523.0 C420.9,523.1 421.5,523.1 422.2,523.1 C422.9,523.2 423.5,523.2 424.2,523.3 C424.9,523.3 425.5,523.3 426.2,523.4 C426.9,523.4 427.5,523.4 428.2,523.5 C428.9,523.5 429.5,523.6 430.2,523.6 C430.9,523.6 431.5,523.7 432.2,523.7 C432.9,523.7 433.5,523.8 434.2,523.8 C434.9,523.8 435.5,523.8 436.2,523.9 C436.9,523.9 437.5,523.9 438.2,524.0 C438.9,524.0 439.5,524.0 440.2,524.0 C440.9,524.1 441.5,524.1 442.2,524.1 C442.9,524.1 443.5,524.1 444.2,524.2 C444.9,524.2 445.5,524.2 446.2,524.2 C446.9,524.3 447.5,524.3 448.2,524.3 C448.9,524.3 449.5,524.3 450.2,524.4 C450.9,524.4 451.5,524.4 452.2,524.4 C452.9,524.4 453.5,524.4 454.2,524.5 C454.9,524.5 455.5,524.5 456.2,524.5 C456.9,524.5 457.5,524.5 458.2,524.5 C458.9,524.6 459.5,524.6 460.2,524.6 C460.9,524.6 461.5,524.6 462.2,524.6 C462.9,524.6 463.5,524.6 464.2,524.6 C464.9,524.7 465.5,524.7 466.2,524.7 C466.9,524.7 467.5,524.7 468.2,524.7 C468.9,524.7 469.5,524.7 470.2,524.7 C470.9,524.7 471.5,524.8 472.2,524.8 C472.9,524.8 473.5,524.8 474.2,524.8 C474.9,524.8 475.5,524.8 476.2,524.8 C476.9,524.8 477.5,524.8 478.2,524.8 C478.9,524.8 479.5,524.8 480.2,524.8 C480.9,524.8 481.5,524.8 482.2,524.9 C482.9,524.9 483.5,524.9 484.2,524.9 C484.9,524.9 485.5,524.9 486.2,524.9 C486.9,524.9 487.5,524.9 488.2,524.9 C488.9,524.9 489.5,524.9 490.2,524.9 C490.9,524.9 491.5,524.9 492.2,524.9 C492.9,524.9 493.5,524.9 494.2,524.9 C494.9,524.9 495.5,524.9 496.2,524.9 C496.9,524.9 497.5,524.9 498.2,524.9 C498.9,524.9 499.5,524.9 500.2,524.9 C500.9,524.9 501.5,524.9 502.2,524.9 C502.9,525.0 503.5,525.0 504.2,525.0 C504.9,525.0 505.5,525.0 506.2,525.0 C506.9,525.0 507.5,525.0 508.2,525.0 C508.9,525.0 509.5,525.0 510.2,525.0 C510.9,525.0 511.5,525.0 512.2,525.0 C512.9,525.0 513.5,525.0 514.2,525.0 C514.9,525.0 515.5,525.0 516.2,525.0 C516.9,525.0 517.5,525.0 518.2,525.0 C518.9,525.0 519.9,525.0 520.2,525.0 L520.20,525.00 L88.20,525.00 Z" fill="rgba(31,119,180,0.25)" stroke="none"/>
<path d="M88.2,525.0 C88.5,525.0 89.5,525.0 90.2,525.0 C90.9,525.0 91.5,525.0 92.2,524.9 C92.9,524.9 93.5,524.9 94.2,524.9 C94.9,524.9 95.5,524.9 96.2,524.9 C96.9,524.9 97.5,524.9 98.2,524.9 C98.9,524.9 99.5,524.9 100.2,524.9 C100.9,524.9 101.5,524.9 102.2,524.9 C102.9,524.9 103.5,524.8 104.2,524.8 C104.9,524.8 105.5,524.8 106.2,524.8 C106.9,524.8 107.5,524.8 108.2,524.8 C108.9,524.8 109.5,524.7 110.2,524.7 C110.9,524.7 111.5,524.7 112.2,524.7 C112.9,524.6 113.5,524.6 114.2,524.6 C114.9,524.5 115.5,524.5 116.2,524.5 C116.9,524.4 117.5,524.4 118.2,524.3 C118.9,524.3 119.5,524.2 120.2,524.1 C120.9,524.1 121.5,524.0 122.2,523.9 C122.9,523.9 123.5,523.8 124.2,523.7 C124.9,523.6 125.5,523.5 126.2,523.4 C126.9,523.3 127.5,523.2 128.2,523.1 C128.9,522.9 129.5,522.8 130.2,522.7 C130.9,522.5 131.5,522.4 132.2,522.2 C132.9,522.0 133.5,521.8 134.2,521.7 C134.9,521.5 135.5,521.3 136.2,521.0 C136.9,520.8 137.5,520.6 138.2,520.3 C138.9,520.1 139.5,519.8 140.2,519.6 C140.9,519.3 141.5,519.1 142.2,518.9 C142.9,518.7 143.5,518.4 144.2,518.2 C144.9,518.0 145.5,517.7 146.2,517.4 C146.9,517.2 147.5,516.9 148.2,516.6 C148.9,516.3 149.5,516.1 150.2,515.8 C150.9,515.5 151.5,515.2 152.2,514.8 C152.9,514.5 153.5,514.2 154.2,513.9 C154.9,513.5 155.5,513.2 156.2,512.8 C156.9,512.5 157.5,512.1 158.2,511.8 C158.9,511.4 159.5,511.0 160.2,510.7 C160.9,510.3 161.5,509.9 162.2,509.5 C162.9,509.1 163.5,508.7 164.2,508.3 C164.9,507.9 165.5,507.5 166.2,507.1 C166.9,506.7 167.5,506.3 168.2,505.9 C168.9,505.5 169.5,505.1 170.2,504.7 C170.9,504.2 171.5,503.8 172.2,503.4 C172.9,503.0 173.5,502.5 174.2,502.1 C174.9,501.7 175.5,501.3 176.2,500.8 C176.9,500.4 177.5,500.0 178.2,499.6 C178.9,499.1 179.5,498.7 180.2,498.3 C180.9,497.9 181.5,497.5 182.2,497.0 C182.9,496.6 183.5,496.2 184.2,495.8 C184.9,495.4 185.5,495.0 186.2,494.6 C186.9,494.2 187.5,493.8 188.2,493.4 C188.9,493.0 189.5,492.6 190.2,492.2 C190.9,491.8 191.5,491.5 192.2,491.1 C192.9,490.7 193.5,490.3 194.2,490.0 C194.9,489.6 195.5,489.2 196.2,488.9 C196.9,488.5 197.5,488.2 198.2,487.8 C198.9,487.5 199.5,487.1 200.2,486.8 C200.9,486.5 201.5,486.1 202.2,485.8 C202.9,485.5 203.5,485.2 204.2,484.9 C204.9,484.5 205.5,484.2 206.2,483.9 C206.9,483.6 207.5,483.3 208.2,483.0 C208.9,482.7 209.5,482.4 210.2,482.1 C210.9,481.8 211.5,481.6 212.2,481.3 C212.9,481.0 213.5,480.7 214.2,480.5 C214.9,480.2 215.5,479.9 216.2,479.7 C216.9,479.4 217.5,479.1 218.2,478.9 C218.9,478.6 219.5,478.4 220.2,478.1 C220.9,477.9 221.5,477.6 222.2,477.4 C222.9,477.2 223.5,476.9 224.2,476.7 C224.9,476.5 225.5,476.3 226.2,476.1 C226.9,475.8 227.5,475.6 228.2,475.4 C228.9,475.2 229.5,475.0 230.2,474.8 C230.9,474.6 231.5,474.4 232.2,474.3 C232.9,474.1 233.5,473.9 234.2,473.7 C234.9,473.6 235.5,473.4 236.2,473.3 C236.9,473.1 237.5,473.0 238.2,472.8 C238.9,472.7 239.5,472.6 240.2,472.5 C240.9,472.4 241.5,472.3 242.2,472.2 C242.9,472.1 243.5,472.0 244.2,471.9 C244.9,471.8 245.5,471.8 246.2,471.7 C246.9,471.7 247.5,471.6 248.2,471.6 C248.9,471.5 249.5,471.5 250.2,471.5 C250.9,471.5 251.5,471.5 252.2,471.5 C252.9,471.5 253.5,471.6 254.2,471.6 C254.9,471.7 255.5,471.7 256.2,471.8 C256.9,471.8 257.5,471.9 258.2,472.0 C258.9,472.1 259.5,472.2 260.2,472.3 C260.9,472.4 261.5,472.6 262.2,472.7 C262.9,472.9 263.5,473.0 264.2,473.2 C264.9,473.3 265.5,473.5 266.2,473.7 C266.9,473.9 267.5,474.1 268.2,474.3 C268.9,474.5 269.5,474.8 270.2,475.0 C270.9,475.2 271.5,475.5 272.2,475.7 C272.9,476.0 273.5,476.3 274.2,476.6 C274.9,476.8 275.5,477.1 276.2,477.4 C276.9,477.7 277.5,478.0 278.2,478.3 C278.9,478.7 279.5,479.0 280.2,479.3 C280.9,479.6 281.5,480.0 282.2,480.3 C282.9,480.7 283.5,481.0 284.2,481.4 C284.9,481.7 285.5,482.1 286.2,482.5 C286.9,482.8 287.5,483.2 288.2,483.6 C288.9,483.9 289.5,484.3 290.2,484.7 C290.9,485.1 291.5,485.5 292.2,485.9 C292.9,486.3 293.5,486.6 294.2,487.0 C294.9,487.4 295.5,487.8 296.2,488.2 C296.9,488.6 297.5,489.0 298.2,489.4 C298.9,489.8 299.5,490.2 300.2,490.6 C300.9,491.0 301.5,491.4 302.2,491.8 C302.9,492.1 303.5,492.5 304.2,492.9 C304.9,493.3 305.5,493.7 306.2,494.1 C306.9,494.5 307.5,494.8 308.2,495.2 C308.9,495.6 309.5,496.0 310.2,496.3 C310.9,496.7 311.5,497.1 312.2,497.4 C312.9,497.8 313.5,498.1 314.2,498.5 C314.9,498.8 315.5,499.2 316.2,499.5 C316.9,499.9 317.5,500.2 318.2,500.6 C318.9,500.9 319.5,501.2 320.2,501.5 C320.9,501.9 321.5,502.2 322.2,502.5 C322.9,502.8 323.5,503.1 324.2,503.4 C324.9,503.7 325.5,504.0 326.2,504.3 C326.9,504.6 327.5,504.9 328.2,505.2 C328.9,505.5 329.5,505.8 330.2,506.0 C330.9,506.3 331.5,506.6 332.2,506.8 C332.9,507.1 333.5,507.3 334.2,507.6 C334.9,507.8 335.5,508.1 336.2,508.3 C336.9,508.6 337.5,508.8 338.2,509.0 C338.9,509.3 339.5,509.5 340.2,509.7 C340.9,509.9 341.5,510.2 342.2,510.4 C342.9,510.6 343.5,510.8 344.2,511.0 C344.9,511.2 345.5,511.4 346.2,511.6 C346.9,511.8 347.5,512.0 348.2,512.2 C348.9,512.4 349.5,512.6 350.2,512.7 C350.9,512.9 351.5,513.1 352.2,513.3 C352.9,513.4 353.5,513.6 354.2,513.8 C354.9,513.9 355.5,514.1 356.2,514.3 C356.9,514.4 357.5,514.6 358.2,514.7 C358.9,514.9 359.5,515.0 360.2,515.2 C360.9,515.3 361.5,515.5 362.2,515.6 C362.9,515.7 363.5,515.9 364.2,516.0 C364.9,516.2 365.5,516.3 366.2,516.4 C366.9,516.5 367.5,516.7 368.2,516.8 C368.9,516.9 369.5,517.0 370.2,517.2 C370.9,517.3 371.5,517.4 372.2,517.5 C372.9,517.6 373.5,517.8 374.2,517.9 C374.9,518.0 375.5,518.1 376.2,518.2 C376.9,518.3 377.5,518.4 378.2,518.5 C378.9,518.6 379.5,518.7 380.2,518.8 C380.9,518.9 381.5,519.0 382.2,519.1 C382.9,519.2 383.5,519.3 384.2,519.4 C384.9,519.5 385.5,519.6 386.2,519.7 C386.9,519.8 387.5,519.8 388.2,519.9 C388.9,520.0 389.5,520.1 390.2,520.2 C390.9,520.3 391.5,520.4 392.2,520.4 C392.9,520.5 393.5,520.6 394.2,520.7 C394.9,520.7 395.5,520.8 396.2,520.9 C396.9,521.0 397.5,521.0 398.2,521.1 C398.9,521.2 399.5,521.3 400.2,521.3 C400.9,521.4 401.5,521.5 402.2,521.5 C402.9,521.6 403.5,521.7 404.2,521.7 C404.9,521.8 405.5,521.9 406.2,521.9 C406.9,522.0 407.5,522.0 408.2,522.1 C408.9,522.1 409.5,522.2 410.2,522.3 C410.9,522.3 411.5,522.4 412.2,522.4 C412.9,522.5 413.5,522.5 414.2,522.6 C414.9,522.6 415.5,522.7 416.2,522.7 C416.9,522.8 417.5,522.8 418.2,522.9 C418.9,522.9 419.5,523.0 420.2,523.0 C420.9,523.1 421.5,523.1 422.2,523.1 C422.9,523.2 423.5,523.2 424.2,523.3 C424.9,523.3 425.5,523.3 426.2,523.4 C426.9,523.4 427.5,523.4 428.2,523.5 C428.9,523.5 429.5,523.6 430.2,523.6 C430.9,523.6 431.5,523.7 432.2,523.7 C432.9,523.7 433.5,523.8 434.2,523.8 C434.9,523.8 435.5,523.8 436.2,523.9 C436.9,523.9 437.5,523.9 438.2,524.0 C438.9,524.0 439.5,524.0 440.2,524.0 C440.9,524.1 441.5,524.1 442.2,524.1 C442.9,524.1 443.5,524.1 444.2,524.2 C444.9,524.2 445.5,524.2 446.2,524.2 C446.9,524.3 447.5,524.3 448.2,524.3 C448.9,524.3 449.5,524.3 450.2,524.4 C450.9,524.4 451.5,524.4 452.2,524.4 C452.9,524.4 453.5,524.4 454.2,524.5 C454.9,524.5 455.5,524.5 456.2,524.5 C456.9,524.5 457.5,524.5 458.2,524.5 C458.9,524.6 459.5,524.6 460.2,524.6 C460.9,524.6 461.5,524.6 462.2,524.6 C462.9,524.6 463.5,524.6 464.2,524.6 C464.9,524.7 465.5,524.7 466.2,524.7 C466.9,524.7 467.5,524.7 468.2,524.7 C468.9,524.7 469.5,524.7 470.2,524.7 C470.9,524.7 471.5,524.8 472.2,524.8 C472.9,524.8 473.5,524.8 474.2,524.8 C474.9,524.8 475.5,524.8 476.2,524.8 C476.9,524.8 477.5,524.8 478.2,524.8 C478.9,524.8 479.5,524.8 480.2,524.8 C480.9,524.8 481.5,524.8 482.2,524.9 C482.9,524.9 483.5,524.9 484.2,524.9 C484.9,524.9 485.5,524.9 486.2,524.9 C486.9,524.9 487.5,524.9 488.2,524.9 C488.9,524.9 489.5,524.9 490.2,524.9 C490.9,524.9 491.5,524.9 492.2,524.9 C492.9,524.9 493.5,524.9 494.2,524.9 C494.9,524.9 495.5,524.9 496.2,524.9 C496.9,524.9 497.5,524.9 498.2,524.9 C498.9,524.9 499.5,524.9 500.2,524.9 C500.9,524.9 501.5,524.9 502.2,524.9 C502.9,525.0 503.5,525.0 504.2,525.0 C504.9,525.0 505.5,525.0 506.2,525.0 C506.9,525.0 507.5,525.0 508.2,525.0 C508.9,525.0 509.5,525.0 510.2,525.0 C510.9,525.0 511.5,525.0 512.2,525.0 C512.9,525.0 513.5,525.0 514.2,525.0 C514.9,525.0 515.5,525.0 516.2,525.0 C516.9,525.0 517.5,525.0 518.2,525.0 C518.9,525.0 519.9,525.0 520.2,525.0" fill="none" stroke="#1f77b4" stroke-width="0.9" stroke-opacity="0.75" stroke-linejoin="round"/>
<path d="M158.0,525.0 C158.8,525.0 161.7,525.1 163.0,525.0 C164.3,524.9 165.1,525.0 166.0,524.6 C166.9,524.2 167.8,523.6 168.6,522.8 C169.4,522.0 169.9,520.8 170.6,519.6 C171.3,518.4 172.0,517.3 172.9,515.7 C173.8,514.1 175.3,511.3 176.2,510.1 C177.1,508.9 177.6,508.7 178.5,508.6 C179.4,508.5 180.5,508.9 181.8,509.3 C183.1,509.7 184.8,511.0 186.2,511.0 C187.6,511.0 189.2,510.3 190.5,509.3 C191.8,508.3 192.8,507.1 193.8,504.9 C194.8,502.7 196.0,499.1 196.7,496.2 C197.4,493.3 197.7,490.7 198.2,487.5 C198.7,484.2 199.1,480.6 199.7,476.6 C200.2,472.6 200.8,468.2 201.5,463.4 C202.2,458.7 202.9,453.2 203.6,448.1 C204.3,443.0 205.1,437.6 205.8,432.8 C206.5,428.1 207.3,423.0 208.0,419.7 C208.7,416.4 209.1,414.5 209.7,413.2 C210.3,411.9 210.9,411.5 211.7,412.1 C212.5,412.7 213.7,415.4 214.5,416.5 C215.3,417.6 215.8,419.2 216.3,418.6 C216.9,418.1 217.3,415.6 217.8,413.2 C218.3,410.8 218.8,409.7 219.3,404.5 C219.8,399.3 220.4,388.1 220.9,381.9 C221.4,375.7 222.0,371.9 222.4,367.4 C222.8,362.8 223.2,357.9 223.6,354.5 C224.0,351.2 224.4,348.7 224.9,347.3 C225.4,346.0 225.9,345.8 226.4,346.4 C226.9,347.0 227.6,348.7 228.2,350.9 C228.8,353.2 229.4,357.9 230.0,360.1 C230.6,362.2 231.1,363.7 231.5,363.7 C231.9,363.7 232.2,363.1 232.7,360.1 C233.2,357.0 234.0,350.4 234.5,345.5 C235.0,340.7 235.4,335.5 235.8,330.9 C236.2,326.4 236.5,321.5 236.9,318.2 C237.3,314.9 237.8,312.6 238.2,311.3 C238.6,310.0 238.7,310.0 239.1,310.5 C239.5,311.0 240.0,311.7 240.4,314.5 C240.8,317.3 241.1,322.2 241.5,327.3 C241.9,332.5 242.3,339.5 242.7,345.5 C243.1,351.6 243.4,357.6 243.8,363.7 C244.2,369.7 244.5,375.8 244.9,381.9 C245.3,387.9 245.8,393.4 246.2,400.1 C246.6,406.8 246.9,415.4 247.3,421.9 C247.7,428.5 248.0,432.9 248.4,439.4 C248.8,446.0 249.4,454.7 249.9,461.2 C250.4,467.8 250.9,473.3 251.6,478.8 C252.2,484.2 253.1,489.3 253.8,494.0 C254.5,498.7 255.3,503.4 256.0,507.1 C256.7,510.7 257.5,513.4 258.2,515.8 C258.9,518.2 259.7,520.0 260.4,521.3 C261.1,522.6 261.7,523.0 262.6,523.5 C263.5,524.0 262.6,524.3 266.0,524.5 C270.6,524.7 282.7,524.4 290.0,524.5 C297.3,524.6 306.7,524.9 310.0,525.0 L310.00,525.00 L158.00,525.00 Z" fill="rgba(255,127,14,0.25)" stroke="none"/>
<path d="M158.0,525.0 C158.8,525.0 161.7,525.1 163.0,525.0 C164.3,524.9 165.1,525.0 166.0,524.6 C166.9,524.2 167.8,523.6 168.6,522.8 C169.4,522.0 169.9,520.8 170.6,519.6 C171.3,518.4 172.0,517.3 172.9,515.7 C173.8,514.1 175.3,511.3 176.2,510.1 C177.1,508.9 177.6,508.7 178.5,508.6 C179.4,508.5 180.5,508.9 181.8,509.3 C183.1,509.7 184.8,511.0 186.2,511.0 C187.6,511.0 189.2,510.3 190.5,509.3 C191.8,508.3 192.8,507.1 193.8,504.9 C194.8,502.7 196.0,499.1 196.7,496.2 C197.4,493.3 197.7,490.7 198.2,487.5 C198.7,484.2 199.1,480.6 199.7,476.6 C200.2,472.6 200.8,468.2 201.5,463.4 C202.2,458.7 202.9,453.2 203.6,448.1 C204.3,443.0 205.1,437.6 205.8,432.8 C206.5,428.1 207.3,423.0 208.0,419.7 C208.7,416.4 209.1,414.5 209.7,413.2 C210.3,411.9 210.9,411.5 211.7,412.1 C212.5,412.7 213.7,415.4 214.5,416.5 C215.3,417.6 215.8,419.2 216.3,418.6 C216.9,418.1 217.3,415.6 217.8,413.2 C218.3,410.8 218.8,409.7 219.3,404.5 C219.8,399.3 220.4,388.1 220.9,381.9 C221.4,375.7 222.0,371.9 222.4,367.4 C222.8,362.8 223.2,357.9 223.6,354.5 C224.0,351.2 224.4,348.7 224.9,347.3 C225.4,346.0 225.9,345.8 226.4,346.4 C226.9,347.0 227.6,348.7 228.2,350.9 C228.8,353.2 229.4,357.9 230.0,360.1 C230.6,362.2 231.1,363.7 231.5,363.7 C231.9,363.7 232.2,363.1 232.7,360.1 C233.2,357.0 234.0,350.4 234.5,345.5 C235.0,340.7 235.4,335.5 235.8,330.9 C236.2,326.4 236.5,321.5 236.9,318.2 C237.3,314.9 237.8,312.6 238.2,311.3 C238.6,310.0 238.7,310.0 239.1,310.5 C239.5,311.0 240.0,311.7 240.4,314.5 C240.8,317.3 241.1,322.2 241.5,327.3 C241.9,332.5 242.3,339.5 242.7,345.5 C243.1,351.6 243.4,357.6 243.8,363.7 C244.2,369.7 244.5,375.8 244.9,381.9 C245.3,387.9 245.8,393.4 246.2,400.1 C246.6,406.8 246.9,415.4 247.3,421.9 C247.7,428.5 248.0,432.9 248.4,439.4 C248.8,446.0 249.4,454.7 249.9,461.2 C250.4,467.8 250.9,473.3 251.6,478.8 C252.2,484.2 253.1,489.3 253.8,494.0 C254.5,498.7 255.3,503.4 256.0,507.1 C256.7,510.7 257.5,513.4 258.2,515.8 C258.9,518.2 259.7,520.0 260.4,521.3 C261.1,522.6 261.7,523.0 262.6,523.5 C263.5,524.0 262.6,524.3 266.0,524.5 C270.6,524.7 282.7,524.4 290.0,524.5 C297.3,524.6 306.7,524.9 310.0,525.0" fill="none" stroke="#ff7f0e" stroke-width="0.9" stroke-opacity="0.75" stroke-linejoin="round"/>
<path d="M65.90,300.00 H544.10 M65.90,525.00 H544.10 M66.50,300.00 V525.00 M543.50,300.00 V525.00" fill="none" stroke="#9c9c9c" stroke-width="1.2"/>
<g style="font-size:9.70px"><line x1="64.90" y1="525.00" x2="66.50" y2="525.00" stroke="#9c9c9c" stroke-width="1.2"/><text x="63.40" y="529.00" text-anchor="end">0.000</text>
<line x1="64.90" y1="497.45" x2="66.50" y2="497.45" stroke="#9c9c9c" stroke-width="1.2"/><text x="63.40" y="501.45" text-anchor="end">0.025</text>
<line x1="64.90" y1="469.90" x2="66.50" y2="469.90" stroke="#9c9c9c" stroke-width="1.2"/><text x="63.40" y="473.90" text-anchor="end">0.050</text>
<line x1="64.90" y1="442.35" x2="66.50" y2="442.35" stroke="#9c9c9c" stroke-width="1.2"/><text x="63.40" y="446.35" text-anchor="end">0.075</text>
<line x1="64.90" y1="414.80" x2="66.50" y2="414.80" stroke="#9c9c9c" stroke-width="1.2"/><text x="63.40" y="418.80" text-anchor="end">0.100</text>
<line x1="64.90" y1="387.25" x2="66.50" y2="387.25" stroke="#9c9c9c" stroke-width="1.2"/><text x="63.40" y="391.25" text-anchor="end">0.125</text>
<line x1="64.90" y1="359.70" x2="66.50" y2="359.70" stroke="#9c9c9c" stroke-width="1.2"/><text x="63.40" y="363.70" text-anchor="end">0.150</text>
<line x1="64.90" y1="332.15" x2="66.50" y2="332.15" stroke="#9c9c9c" stroke-width="1.2"/><text x="63.40" y="336.15" text-anchor="end">0.175</text>
<line x1="64.90" y1="304.60" x2="66.50" y2="304.60" stroke="#9c9c9c" stroke-width="1.2"/><text x="63.40" y="308.60" text-anchor="end">0.200</text>
</g>
<g style="font-size:9.70px"><line x1="121.05" y1="525.00" x2="121.05" y2="526.60" stroke="#9c9c9c" stroke-width="1.2"/><text x="121.05" y="535.50" text-anchor="middle">0</text>
<line x1="190.43" y1="525.00" x2="190.43" y2="526.60" stroke="#9c9c9c" stroke-width="1.2"/><text x="190.43" y="535.50" text-anchor="middle">10</text>
<line x1="259.81" y1="525.00" x2="259.81" y2="526.60" stroke="#9c9c9c" stroke-width="1.2"/><text x="259.81" y="535.50" text-anchor="middle">20</text>
<line x1="329.19" y1="525.00" x2="329.19" y2="526.60" stroke="#9c9c9c" stroke-width="1.2"/><text x="329.19" y="535.50" text-anchor="middle">30</text>
<line x1="398.57" y1="525.00" x2="398.57" y2="526.60" stroke="#9c9c9c" stroke-width="1.2"/><text x="398.57" y="535.50" text-anchor="middle">40</text>
<line x1="467.95" y1="525.00" x2="467.95" y2="526.60" stroke="#9c9c9c" stroke-width="1.2"/><text x="467.95" y="535.50" text-anchor="middle">50</text>
<line x1="537.33" y1="525.00" x2="537.33" y2="526.60" stroke="#9c9c9c" stroke-width="1.2"/><text x="537.33" y="535.50" text-anchor="middle">60</text>
</g>
<text x="305.00" y="547.00" text-anchor="middle" style="font-size:9.70px">Length</text>
<text transform="translate(32.10,413.20) rotate(-90)" text-anchor="middle" style="font-size:9.70px">Density</text>
<rect x="414.70" y="305.60" width="124.00" height="30.60" rx="2" fill="#fff" fill-opacity="0.8" stroke="#d8d8d8" stroke-width="0.8"/>
<rect x="418.20" y="309.85" width="20.40" height="7.10" fill="rgba(31,119,180,0.25)" stroke="#1f77b4" stroke-opacity="0.6" stroke-width="0.9"/><text x="446.00" y="317.00" style="font-size:10.00px">Linker-Length</text>
<rect x="418.20" y="323.75" width="20.40" height="7.10" fill="rgba(255,127,14,0.25)" stroke="#ff7f0e" stroke-opacity="0.6" stroke-width="0.9"/><text x="446.00" y="330.90" style="font-size:10.00px">RL-Control-Length</text>
<text x="6.00" y="313.00" style="font-family:'Liberation Serif',serif;font-weight:bold;font-size:12.5px;fill:#000">B</text>
<path d="M96.3,817.5 C96.5,817.5 96.8,817.5 97.0,817.5 C97.3,817.5 97.5,817.5 97.7,817.4 C97.9,817.4 98.2,817.4 98.4,817.4 C98.6,817.4 98.9,817.4 99.1,817.3 C99.3,817.3 99.5,817.3 99.8,817.3 C100.0,817.2 100.2,817.2 100.5,817.1 C100.7,817.1 100.9,817.0 101.1,816.9 C101.4,816.9 101.6,816.8 101.8,816.7 C102.1,816.6 102.3,816.4 102.5,816.3 C102.7,816.2 103.0,816.0 103.2,815.8 C103.4,815.7 103.7,815.5 103.9,815.2 C104.1,815.0 104.3,814.8 104.6,814.5 C104.8,814.2 105.0,813.9 105.3,813.6 C105.5,813.3 105.7,812.9 105.9,812.5 C106.2,812.1 106.4,811.7 106.6,811.3 C106.9,810.8 107.1,810.3 107.3,809.8 C107.5,809.3 107.8,808.7 108.0,808.1 C108.2,807.5 108.5,806.9 108.7,806.2 C108.9,805.5 109.1,804.7 109.4,803.9 C109.6,803.1 109.8,802.3 110.1,801.3 C110.3,800.4 110.5,799.4 110.7,798.3 C111.0,797.2 111.2,796.1 111.4,794.8 C111.7,793.6 111.9,792.2 112.1,790.8 C112.3,789.4 112.6,787.8 112.8,786.2 C113.0,784.6 113.3,782.9 113.5,781.1 C113.7,779.2 113.9,777.3 114.2,775.4 C114.4,773.4 114.6,771.3 114.9,769.2 C115.1,767.1 115.3,765.0 115.5,762.8 C115.8,760.6 116.0,758.4 116.2,756.2 C116.5,754.0 116.7,751.8 116.9,749.6 C117.1,747.5 117.4,745.4 117.6,743.3 C117.8,741.3 118.1,739.3 118.3,737.5 C118.5,735.7 118.7,733.9 119.0,732.4 C119.2,730.8 119.4,729.3 119.7,728.0 C119.9,726.6 120.1,725.5 120.3,724.4 C120.6,723.3 120.8,722.4 121.0,721.5 C121.3,720.7 121.5,720.0 121.7,719.3 C121.9,718.5 122.2,717.9 122.4,717.3 C122.6,716.6 122.9,716.0 123.1,715.4 C123.3,714.8 123.5,714.2 123.8,713.6 C124.0,713.0 124.2,712.4 124.5,711.9 C124.7,711.5 124.9,711.0 125.1,710.8 C125.4,710.6 125.6,710.5 125.8,710.7 C126.1,710.9 126.3,711.3 126.5,712.1 C126.7,712.8 127.0,713.9 127.2,715.1 C127.4,716.4 127.6,718.0 127.9,719.8 C128.1,721.5 128.3,723.5 128.6,725.4 C128.8,727.4 129.0,729.5 129.2,731.4 C129.5,733.4 129.7,735.4 129.9,737.2 C130.2,739.0 130.4,740.7 130.6,742.2 C130.8,743.8 131.1,745.1 131.3,746.4 C131.5,747.6 131.8,748.6 132.0,749.6 C132.2,750.6 132.4,751.5 132.7,752.3 C132.9,753.1 133.1,753.9 133.4,754.6 C133.6,755.4 133.8,756.1 134.0,756.9 C134.3,757.6 134.5,758.4 134.7,759.2 C135.0,760.0 135.2,760.9 135.4,761.7 C135.6,762.6 135.9,763.5 136.1,764.5 C136.3,765.4 136.6,766.4 136.8,767.4 C137.0,768.4 137.2,769.4 137.5,770.4 C137.7,771.4 137.9,772.4 138.2,773.4 C138.4,774.4 138.6,775.4 138.8,776.4 C139.1,777.4 139.3,778.4 139.5,779.3 C139.8,780.2 140.0,781.1 140.2,782.0 C140.4,782.9 140.7,783.7 140.9,784.5 C141.1,785.3 141.4,786.1 141.6,786.9 C141.8,787.6 142.0,788.3 142.3,789.0 C142.5,789.7 142.7,790.3 143.0,791.0 C143.2,791.6 143.4,792.2 143.6,792.7 C143.9,793.3 144.1,793.9 144.3,794.4 C144.6,795.0 144.8,795.5 145.0,796.0 C145.2,796.5 145.5,797.0 145.7,797.5 C145.9,798.0 146.2,798.4 146.4,798.9 C146.6,799.4 146.8,799.8 147.1,800.3 C147.3,800.7 147.5,801.2 147.8,801.6 C148.0,802.1 148.2,802.5 148.4,803.0 C148.7,803.4 148.9,803.8 149.1,804.2 C149.4,804.7 149.6,805.1 149.8,805.5 C150.0,805.9 150.3,806.3 150.5,806.7 C150.7,807.1 151.0,807.5 151.2,807.8 C151.4,808.2 151.6,808.6 151.9,808.9 C152.1,809.3 152.3,809.6 152.6,810.0 C152.8,810.3 153.0,810.6 153.2,810.9 C153.5,811.2 153.7,811.5 153.9,811.8 C154.2,812.1 154.4,812.3 154.6,812.6 C154.8,812.8 155.1,813.1 155.3,813.3 C155.5,813.5 155.8,813.7 156.0,813.9 C156.2,814.1 156.4,814.3 156.7,814.5 C156.9,814.7 157.1,814.9 157.4,815.0 C157.6,815.2 157.8,815.3 158.0,815.4 C158.3,815.6 158.5,815.7 158.7,815.8 C158.9,815.9 159.2,816.0 159.4,816.1 C159.6,816.2 159.9,816.3 160.1,816.4 C160.3,816.5 160.5,816.5 160.8,816.6 C161.0,816.7 161.2,816.7 161.5,816.8 C161.7,816.9 161.9,816.9 162.1,816.9 C162.4,817.0 162.6,817.0 162.8,817.1 C163.1,817.1 163.3,817.1 163.5,817.2 C163.7,817.2 164.0,817.2 164.2,817.2 C164.4,817.3 164.7,817.3 164.9,817.3 C165.1,817.3 165.3,817.3 165.6,817.4 C165.8,817.4 166.0,817.4 166.3,817.4 C166.5,817.4 166.7,817.4 166.9,817.4 C167.2,817.4 167.4,817.4 167.6,817.4 C167.9,817.4 168.1,817.4 168.3,817.5 C168.5,817.5 168.8,817.5 169.0,817.5 C169.2,817.5 169.5,817.5 169.7,817.5 C169.9,817.5 170.3,817.5 170.4,817.5 L170.37,817.50 L96.35,817.50 Z" fill="rgba(31,119,180,0.25)" stroke="none"/>
<path d="M96.3,817.5 C96.5,817.5 96.8,817.5 97.0,817.5 C97.3,817.5 97.5,817.5 97.7,817.4 C97.9,817.4 98.2,817.4 98.4,817.4 C98.6,817.4 98.9,817.4 99.1,817.3 C99.3,817.3 99.5,817.3 99.8,817.3 C100.0,817.2 100.2,817.2 100.5,817.1 C100.7,817.1 100.9,817.0 101.1,816.9 C101.4,816.9 101.6,816.8 101.8,816.7 C102.1,816.6 102.3,816.4 102.5,816.3 C102.7,816.2 103.0,816.0 103.2,815.8 C103.4,815.7 103.7,815.5 103.9,815.2 C104.1,815.0 104.3,814.8 104.6,814.5 C104.8,814.2 105.0,813.9 105.3,813.6 C105.5,813.3 105.7,812.9 105.9,812.5 C106.2,812.1 106.4,811.7 106.6,811.3 C106.9,810.8 107.1,810.3 107.3,809.8 C107.5,809.3 107.8,808.7 108.0,808.1 C108.2,807.5 108.5,806.9 108.7,806.2 C108.9,805.5 109.1,804.7 109.4,803.9 C109.6,803.1 109.8,802.3 110.1,801.3 C110.3,800.4 110.5,799.4 110.7,798.3 C111.0,797.2 111.2,796.1 111.4,794.8 C111.7,793.6 111.9,792.2 112.1,790.8 C112.3,789.4 112.6,787.8 112.8,786.2 C113.0,784.6 113.3,782.9 113.5,781.1 C113.7,779.2 113.9,777.3 114.2,775.4 C114.4,773.4 114.6,771.3 114.9,769.2 C115.1,767.1 115.3,765.0 115.5,762.8 C115.8,760.6 116.0,758.4 116.2,756.2 C116.5,754.0 116.7,751.8 116.9,749.6 C117.1,747.5 117.4,745.4 117.6,743.3 C117.8,741.3 118.1,739.3 118.3,737.5 C118.5,735.7 118.7,733.9 119.0,732.4 C119.2,730.8 119.4,729.3 119.7,728.0 C119.9,726.6 120.1,725.5 120.3,724.4 C120.6,723.3 120.8,722.4 121.0,721.5 C121.3,720.7 121.5,720.0 121.7,719.3 C121.9,718.5 122.2,717.9 122.4,717.3 C122.6,716.6 122.9,716.0 123.1,715.4 C123.3,714.8 123.5,714.2 123.8,713.6 C124.0,713.0 124.2,712.4 124.5,711.9 C124.7,711.5 124.9,711.0 125.1,710.8 C125.4,710.6 125.6,710.5 125.8,710.7 C126.1,710.9 126.3,711.3 126.5,712.1 C126.7,712.8 127.0,713.9 127.2,715.1 C127.4,716.4 127.6,718.0 127.9,719.8 C128.1,721.5 128.3,723.5 128.6,725.4 C128.8,727.4 129.0,729.5 129.2,731.4 C129.5,733.4 129.7,735.4 129.9,737.2 C130.2,739.0 130.4,740.7 130.6,742.2 C130.8,743.8 131.1,745.1 131.3,746.4 C131.5,747.6 131.8,748.6 132.0,749.6 C132.2,750.6 132.4,751.5 132.7,752.3 C132.9,753.1 133.1,753.9 133.4,754.6 C133.6,755.4 133.8,756.1 134.0,756.9 C134.3,757.6 134.5,758.4 134.7,759.2 C135.0,760.0 135.2,760.9 135.4,761.7 C135.6,762.6 135.9,763.5 136.1,764.5 C136.3,765.4 136.6,766.4 136.8,767.4 C137.0,768.4 137.2,769.4 137.5,770.4 C137.7,771.4 137.9,772.4 138.2,773.4 C138.4,774.4 138.6,775.4 138.8,776.4 C139.1,777.4 139.3,778.4 139.5,779.3 C139.8,780.2 140.0,781.1 140.2,782.0 C140.4,782.9 140.7,783.7 140.9,784.5 C141.1,785.3 141.4,786.1 141.6,786.9 C141.8,787.6 142.0,788.3 142.3,789.0 C142.5,789.7 142.7,790.3 143.0,791.0 C143.2,791.6 143.4,792.2 143.6,792.7 C143.9,793.3 144.1,793.9 144.3,794.4 C144.6,795.0 144.8,795.5 145.0,796.0 C145.2,796.5 145.5,797.0 145.7,797.5 C145.9,798.0 146.2,798.4 146.4,798.9 C146.6,799.4 146.8,799.8 147.1,800.3 C147.3,800.7 147.5,801.2 147.8,801.6 C148.0,802.1 148.2,802.5 148.4,803.0 C148.7,803.4 148.9,803.8 149.1,804.2 C149.4,804.7 149.6,805.1 149.8,805.5 C150.0,805.9 150.3,806.3 150.5,806.7 C150.7,807.1 151.0,807.5 151.2,807.8 C151.4,808.2 151.6,808.6 151.9,808.9 C152.1,809.3 152.3,809.6 152.6,810.0 C152.8,810.3 153.0,810.6 153.2,810.9 C153.5,811.2 153.7,811.5 153.9,811.8 C154.2,812.1 154.4,812.3 154.6,812.6 C154.8,812.8 155.1,813.1 155.3,813.3 C155.5,813.5 155.8,813.7 156.0,813.9 C156.2,814.1 156.4,814.3 156.7,814.5 C156.9,814.7 157.1,814.9 157.4,815.0 C157.6,815.2 157.8,815.3 158.0,815.4 C158.3,815.6 158.5,815.7 158.7,815.8 C158.9,815.9 159.2,816.0 159.4,816.1 C159.6,816.2 159.9,816.3 160.1,816.4 C160.3,816.5 160.5,816.5 160.8,816.6 C161.0,816.7 161.2,816.7 161.5,816.8 C161.7,816.9 161.9,816.9 162.1,816.9 C162.4,817.0 162.6,817.0 162.8,817.1 C163.1,817.1 163.3,817.1 163.5,817.2 C163.7,817.2 164.0,817.2 164.2,817.2 C164.4,817.3 164.7,817.3 164.9,817.3 C165.1,817.3 165.3,817.3 165.6,817.4 C165.8,817.4 166.0,817.4 166.3,817.4 C166.5,817.4 166.7,817.4 166.9,817.4 C167.2,817.4 167.4,817.4 167.6,817.4 C167.9,817.4 168.1,817.4 168.3,817.5 C168.5,817.5 168.8,817.5 169.0,817.5 C169.2,817.5 169.5,817.5 169.7,817.5 C169.9,817.5 170.3,817.5 170.4,817.5" fill="none" stroke="#1f77b4" stroke-width="0.9" stroke-opacity="0.75" stroke-linejoin="round"/>
<path d="M112.0,817.5 C112.9,817.3 116.0,816.6 117.6,816.4 C119.1,816.2 120.2,816.6 121.3,816.4 C122.4,816.1 123.5,816.4 124.2,814.9 C124.9,813.4 125.0,811.0 125.3,807.6 C125.6,804.2 125.7,800.3 125.9,794.5 C126.1,788.7 126.4,781.2 126.7,772.7 C127.0,764.2 127.3,754.9 127.5,743.6 C127.7,732.3 127.9,714.6 128.1,705.0 C128.3,695.4 128.4,693.5 128.5,686.0 C128.6,678.5 128.7,669.5 128.8,659.8 C128.9,650.1 129.1,636.0 129.3,627.9 C129.5,619.8 129.7,615.1 129.9,611.0 C130.1,606.9 130.4,603.4 130.6,603.2 C130.8,603.0 131.0,605.9 131.1,610.0 C131.2,614.1 131.2,620.5 131.4,627.9 C131.6,635.3 132.1,647.0 132.5,654.5 C132.9,662.0 133.3,668.8 133.6,672.6 C133.9,676.4 133.9,677.1 134.1,677.5 C134.3,677.9 134.5,676.2 134.7,675.0 C134.9,673.8 135.0,672.1 135.2,670.5 C135.4,668.9 135.5,666.6 135.7,665.1 C135.9,663.6 136.3,663.1 136.6,661.5 C136.9,659.9 137.1,659.4 137.3,655.6 C137.5,651.8 137.6,644.1 137.8,638.6 C138.0,633.1 138.2,626.6 138.4,622.6 C138.6,618.6 138.8,615.4 138.9,614.6 C139.1,613.8 139.2,615.8 139.3,618.0 C139.4,620.2 139.4,620.9 139.6,627.9 C139.8,634.9 140.0,650.1 140.2,659.8 C140.3,669.5 140.4,678.5 140.5,686.0 C140.6,693.5 140.7,695.4 140.9,705.0 C141.1,714.6 141.3,732.3 141.6,743.6 C141.8,754.9 142.2,765.4 142.4,772.7 C142.7,780.0 142.8,782.9 143.1,787.3 C143.4,791.7 143.7,795.3 144.1,798.9 C144.5,802.5 144.9,806.4 145.3,809.1 C145.7,811.8 145.7,813.7 146.7,814.9 C147.7,816.1 149.5,816.0 151.1,816.4 C152.7,816.8 155.2,817.3 156.0,817.5 L156.00,817.50 L112.00,817.50 Z" fill="rgba(255,127,14,0.25)" stroke="none"/>
<path d="M112.0,817.5 C112.9,817.3 116.0,816.6 117.6,816.4 C119.1,816.2 120.2,816.6 121.3,816.4 C122.4,816.1 123.5,816.4 124.2,814.9 C124.9,813.4 125.0,811.0 125.3,807.6 C125.6,804.2 125.7,800.3 125.9,794.5 C126.1,788.7 126.4,781.2 126.7,772.7 C127.0,764.2 127.3,754.9 127.5,743.6 C127.7,732.3 127.9,714.6 128.1,705.0 C128.3,695.4 128.4,693.5 128.5,686.0 C128.6,678.5 128.7,669.5 128.8,659.8 C128.9,650.1 129.1,636.0 129.3,627.9 C129.5,619.8 129.7,615.1 129.9,611.0 C130.1,606.9 130.4,603.4 130.6,603.2 C130.8,603.0 131.0,605.9 131.1,610.0 C131.2,614.1 131.2,620.5 131.4,627.9 C131.6,635.3 132.1,647.0 132.5,654.5 C132.9,662.0 133.3,668.8 133.6,672.6 C133.9,676.4 133.9,677.1 134.1,677.5 C134.3,677.9 134.5,676.2 134.7,675.0 C134.9,673.8 135.0,672.1 135.2,670.5 C135.4,668.9 135.5,666.6 135.7,665.1 C135.9,663.6 136.3,663.1 136.6,661.5 C136.9,659.9 137.1,659.4 137.3,655.6 C137.5,651.8 137.6,644.1 137.8,638.6 C138.0,633.1 138.2,626.6 138.4,622.6 C138.6,618.6 138.8,615.4 138.9,614.6 C139.1,613.8 139.2,615.8 139.3,618.0 C139.4,620.2 139.4,620.9 139.6,627.9 C139.8,634.9 140.0,650.1 140.2,659.8 C140.3,669.5 140.4,678.5 140.5,686.0 C140.6,693.5 140.7,695.4 140.9,705.0 C141.1,714.6 141.3,732.3 141.6,743.6 C141.8,754.9 142.2,765.4 142.4,772.7 C142.7,780.0 142.8,782.9 143.1,787.3 C143.4,791.7 143.7,795.3 144.1,798.9 C144.5,802.5 144.9,806.4 145.3,809.1 C145.7,811.8 145.7,813.7 146.7,814.9 C147.7,816.1 149.5,816.0 151.1,816.4 C152.7,816.8 155.2,817.3 156.0,817.5" fill="none" stroke="#ff7f0e" stroke-width="0.9" stroke-opacity="0.75" stroke-linejoin="round"/>
<path d="M88.2,817.5 C88.5,817.5 89.5,817.5 90.2,817.5 C90.9,817.5 91.5,817.5 92.2,817.5 C92.9,817.5 93.5,817.5 94.2,817.5 C94.9,817.5 95.5,817.5 96.2,817.5 C96.9,817.5 97.5,817.5 98.2,817.5 C98.9,817.5 99.5,817.5 100.2,817.5 C100.9,817.5 101.5,817.5 102.2,817.5 C102.9,817.5 103.5,817.5 104.2,817.4 C104.9,817.4 105.5,817.4 106.2,817.4 C106.9,817.4 107.5,817.4 108.2,817.4 C108.9,817.4 109.5,817.4 110.2,817.4 C110.9,817.4 111.5,817.4 112.2,817.4 C112.9,817.4 113.5,817.4 114.2,817.4 C114.9,817.4 115.5,817.3 116.2,817.3 C116.9,817.3 117.5,817.3 118.2,817.3 C118.9,817.3 119.5,817.2 120.2,817.2 C120.9,817.2 121.5,817.2 122.2,817.2 C122.9,817.1 123.5,817.1 124.2,817.1 C124.9,817.1 125.5,817.0 126.2,817.0 C126.9,817.0 127.5,816.9 128.2,816.9 C128.9,816.8 129.5,816.8 130.2,816.8 C130.9,816.7 131.5,816.7 132.2,816.6 C132.9,816.6 133.5,816.5 134.2,816.4 C134.9,816.4 135.5,816.3 136.2,816.2 C136.9,816.2 137.5,816.1 138.2,816.0 C138.9,815.9 139.5,815.8 140.2,815.8 C140.9,815.7 141.5,815.6 142.2,815.6 C142.9,815.5 143.5,815.4 144.2,815.3 C144.9,815.3 145.5,815.2 146.2,815.1 C146.9,815.0 147.5,814.9 148.2,814.8 C148.9,814.7 149.5,814.7 150.2,814.6 C150.9,814.5 151.5,814.4 152.2,814.3 C152.9,814.2 153.5,814.1 154.2,814.0 C154.9,813.9 155.5,813.7 156.2,813.6 C156.9,813.5 157.5,813.4 158.2,813.3 C158.9,813.2 159.5,813.1 160.2,812.9 C160.9,812.8 161.5,812.7 162.2,812.6 C162.9,812.5 163.5,812.3 164.2,812.2 C164.9,812.1 165.5,812.0 166.2,811.8 C166.9,811.7 167.5,811.6 168.2,811.4 C168.9,811.3 169.5,811.2 170.2,811.0 C170.9,810.9 171.5,810.8 172.2,810.6 C172.9,810.5 173.5,810.4 174.2,810.2 C174.9,810.1 175.5,810.0 176.2,809.8 C176.9,809.7 177.5,809.5 178.2,809.4 C178.9,809.3 179.5,809.1 180.2,809.0 C180.9,808.9 181.5,808.7 182.2,808.6 C182.9,808.5 183.5,808.3 184.2,808.2 C184.9,808.1 185.5,808.0 186.2,807.8 C186.9,807.7 187.5,807.6 188.2,807.5 C188.9,807.3 189.5,807.2 190.2,807.1 C190.9,807.0 191.5,806.8 192.2,806.7 C192.9,806.6 193.5,806.5 194.2,806.4 C194.9,806.2 195.5,806.1 196.2,806.0 C196.9,805.9 197.5,805.8 198.2,805.7 C198.9,805.6 199.5,805.5 200.2,805.4 C200.9,805.3 201.5,805.1 202.2,805.0 C202.9,804.9 203.5,804.8 204.2,804.7 C204.9,804.6 205.5,804.5 206.2,804.4 C206.9,804.3 207.5,804.2 208.2,804.2 C208.9,804.1 209.5,804.0 210.2,803.9 C210.9,803.8 211.5,803.7 212.2,803.6 C212.9,803.5 213.5,803.4 214.2,803.3 C214.9,803.3 215.5,803.2 216.2,803.1 C216.9,803.0 217.5,802.9 218.2,802.8 C218.9,802.8 219.5,802.7 220.2,802.6 C220.9,802.5 221.5,802.4 222.2,802.4 C222.9,802.3 223.5,802.2 224.2,802.2 C224.9,802.1 225.5,802.0 226.2,801.9 C226.9,801.9 227.5,801.8 228.2,801.7 C228.9,801.7 229.5,801.6 230.2,801.6 C230.9,801.5 231.5,801.4 232.2,801.4 C232.9,801.3 233.5,801.3 234.2,801.2 C234.9,801.2 235.5,801.1 236.2,801.1 C236.9,801.0 237.5,801.0 238.2,800.9 C238.9,800.9 239.5,800.8 240.2,800.8 C240.9,800.8 241.5,800.7 242.2,800.7 C242.9,800.7 243.5,800.6 244.2,800.6 C244.9,800.6 245.5,800.6 246.2,800.6 C246.9,800.5 247.5,800.5 248.2,800.5 C248.9,800.5 249.5,800.5 250.2,800.5 C250.9,800.5 251.5,800.5 252.2,800.5 C252.9,800.5 253.5,800.5 254.2,800.5 C254.9,800.5 255.5,800.6 256.2,800.6 C256.9,800.6 257.5,800.6 258.2,800.7 C258.9,800.7 259.5,800.7 260.2,800.8 C260.9,800.8 261.5,800.8 262.2,800.9 C262.9,800.9 263.5,801.0 264.2,801.0 C264.9,801.1 265.5,801.1 266.2,801.2 C266.9,801.3 267.5,801.3 268.2,801.4 C268.9,801.5 269.5,801.5 270.2,801.6 C270.9,801.7 271.5,801.8 272.2,801.8 C272.9,801.9 273.5,802.0 274.2,802.1 C274.9,802.2 275.5,802.3 276.2,802.4 C276.9,802.5 277.5,802.6 278.2,802.7 C278.9,802.8 279.5,802.9 280.2,803.0 C280.9,803.1 281.5,803.2 282.2,803.3 C282.9,803.4 283.5,803.5 284.2,803.6 C284.9,803.7 285.5,803.9 286.2,804.0 C286.9,804.1 287.5,804.2 288.2,804.3 C288.9,804.4 289.5,804.6 290.2,804.7 C290.9,804.8 291.5,804.9 292.2,805.1 C292.9,805.2 293.5,805.3 294.2,805.4 C294.9,805.6 295.5,805.7 296.2,805.8 C296.9,805.9 297.5,806.1 298.2,806.2 C298.9,806.3 299.5,806.4 300.2,806.6 C300.9,806.7 301.5,806.8 302.2,806.9 C302.9,807.1 303.5,807.2 304.2,807.3 C304.9,807.4 305.5,807.5 306.2,807.7 C306.9,807.8 307.5,807.9 308.2,808.0 C308.9,808.1 309.5,808.3 310.2,808.4 C310.9,808.5 311.5,808.6 312.2,808.7 C312.9,808.8 313.5,809.0 314.2,809.1 C314.9,809.2 315.5,809.3 316.2,809.4 C316.9,809.5 317.5,809.6 318.2,809.7 C318.9,809.8 319.5,809.9 320.2,810.0 C320.9,810.1 321.5,810.2 322.2,810.3 C322.9,810.4 323.5,810.5 324.2,810.6 C324.9,810.7 325.5,810.8 326.2,810.9 C326.9,811.0 327.5,811.1 328.2,811.2 C328.9,811.3 329.5,811.4 330.2,811.5 C330.9,811.6 331.5,811.6 332.2,811.7 C332.9,811.8 333.5,811.9 334.2,812.0 C334.9,812.0 335.5,812.1 336.2,812.2 C336.9,812.3 337.5,812.4 338.2,812.4 C338.9,812.5 339.5,812.6 340.2,812.6 C340.9,812.7 341.5,812.8 342.2,812.9 C342.9,812.9 343.5,813.0 344.2,813.1 C344.9,813.1 345.5,813.2 346.2,813.2 C346.9,813.3 347.5,813.4 348.2,813.4 C348.9,813.5 349.5,813.5 350.2,813.6 C350.9,813.7 351.5,813.7 352.2,813.8 C352.9,813.8 353.5,813.9 354.2,813.9 C354.9,814.0 355.5,814.0 356.2,814.1 C356.9,814.1 357.5,814.2 358.2,814.2 C358.9,814.3 359.5,814.3 360.2,814.4 C360.9,814.4 361.5,814.5 362.2,814.5 C362.9,814.6 363.5,814.6 364.2,814.6 C364.9,814.7 365.5,814.7 366.2,814.8 C366.9,814.8 367.5,814.9 368.2,814.9 C368.9,814.9 369.5,815.0 370.2,815.0 C370.9,815.0 371.5,815.1 372.2,815.1 C372.9,815.2 373.5,815.2 374.2,815.2 C374.9,815.3 375.5,815.3 376.2,815.3 C376.9,815.4 377.5,815.4 378.2,815.4 C378.9,815.5 379.5,815.5 380.2,815.5 C380.9,815.6 381.5,815.6 382.2,815.6 C382.9,815.7 383.5,815.7 384.2,815.7 C384.9,815.7 385.5,815.8 386.2,815.8 C386.9,815.8 387.5,815.9 388.2,815.9 C388.9,815.9 389.5,815.9 390.2,816.0 C390.9,816.0 391.5,816.0 392.2,816.0 C392.9,816.1 393.5,816.1 394.2,816.1 C394.9,816.1 395.5,816.2 396.2,816.2 C396.9,816.2 397.5,816.2 398.2,816.3 C398.9,816.3 399.5,816.3 400.2,816.3 C400.9,816.4 401.5,816.4 402.2,816.4 C402.9,816.4 403.5,816.4 404.2,816.5 C404.9,816.5 405.5,816.5 406.2,816.5 C406.9,816.5 407.5,816.6 408.2,816.6 C408.9,816.6 409.5,816.6 410.2,816.6 C410.9,816.6 411.5,816.7 412.2,816.7 C412.9,816.7 413.5,816.7 414.2,816.7 C414.9,816.7 415.5,816.8 416.2,816.8 C416.9,816.8 417.5,816.8 418.2,816.8 C418.9,816.8 419.5,816.9 420.2,816.9 C420.9,816.9 421.5,816.9 422.2,816.9 C422.9,816.9 423.5,816.9 424.2,816.9 C424.9,817.0 425.5,817.0 426.2,817.0 C426.9,817.0 427.5,817.0 428.2,817.0 C428.9,817.0 429.5,817.0 430.2,817.1 C430.9,817.1 431.5,817.1 432.2,817.1 C432.9,817.1 433.5,817.1 434.2,817.1 C434.9,817.1 435.5,817.1 436.2,817.1 C436.9,817.1 437.5,817.2 438.2,817.2 C438.9,817.2 439.5,817.2 440.2,817.2 C440.9,817.2 441.5,817.2 442.2,817.2 C442.9,817.2 443.5,817.2 444.2,817.2 C444.9,817.2 445.5,817.3 446.2,817.3 C446.9,817.3 447.5,817.3 448.2,817.3 C448.9,817.3 449.5,817.3 450.2,817.3 C450.9,817.3 451.5,817.3 452.2,817.3 C452.9,817.3 453.5,817.3 454.2,817.3 C454.9,817.3 455.5,817.3 456.2,817.3 C456.9,817.3 457.5,817.3 458.2,817.4 C458.9,817.4 459.5,817.4 460.2,817.4 C460.9,817.4 461.5,817.4 462.2,817.4 C462.9,817.4 463.5,817.4 464.2,817.4 C464.9,817.4 465.5,817.4 466.2,817.4 C466.9,817.4 467.5,817.4 468.2,817.4 C468.9,817.4 469.5,817.4 470.2,817.4 C470.9,817.4 471.5,817.4 472.2,817.4 C472.9,817.4 473.5,817.4 474.2,817.4 C474.9,817.4 475.5,817.4 476.2,817.4 C476.9,817.4 477.5,817.4 478.2,817.4 C478.9,817.4 479.5,817.4 480.2,817.4 C480.9,817.4 481.5,817.5 482.2,817.5 C482.9,817.5 483.5,817.5 484.2,817.5 C484.9,817.5 485.5,817.5 486.2,817.5 C486.9,817.5 487.5,817.5 488.2,817.5 C488.9,817.5 489.5,817.5 490.2,817.5 C490.9,817.5 491.5,817.5 492.2,817.5 C492.9,817.5 493.5,817.5 494.2,817.5 C494.9,817.5 495.5,817.5 496.2,817.5 C496.9,817.5 497.5,817.5 498.2,817.5 C498.9,817.5 499.5,817.5 500.2,817.5 C500.9,817.5 501.5,817.5 502.2,817.5 C502.9,817.5 503.5,817.5 504.2,817.5 C504.9,817.5 505.5,817.5 506.2,817.5 C506.9,817.5 507.5,817.5 508.2,817.5 C508.9,817.5 509.5,817.5 510.2,817.5 C510.9,817.5 511.5,817.5 512.2,817.5 C512.9,817.5 513.5,817.5 514.2,817.5 C514.9,817.5 515.5,817.5 516.2,817.5 C516.9,817.5 517.5,817.5 518.2,817.5 C518.9,817.5 519.9,817.5 520.2,817.5 L520.20,817.50 L88.20,817.50 Z" fill="rgba(44,160,44,0.25)" stroke="none"/>
<path d="M88.2,817.5 C88.5,817.5 89.5,817.5 90.2,817.5 C90.9,817.5 91.5,817.5 92.2,817.5 C92.9,817.5 93.5,817.5 94.2,817.5 C94.9,817.5 95.5,817.5 96.2,817.5 C96.9,817.5 97.5,817.5 98.2,817.5 C98.9,817.5 99.5,817.5 100.2,817.5 C100.9,817.5 101.5,817.5 102.2,817.5 C102.9,817.5 103.5,817.5 104.2,817.4 C104.9,817.4 105.5,817.4 106.2,817.4 C106.9,817.4 107.5,817.4 108.2,817.4 C108.9,817.4 109.5,817.4 110.2,817.4 C110.9,817.4 111.5,817.4 112.2,817.4 C112.9,817.4 113.5,817.4 114.2,817.4 C114.9,817.4 115.5,817.3 116.2,817.3 C116.9,817.3 117.5,817.3 118.2,817.3 C118.9,817.3 119.5,817.2 120.2,817.2 C120.9,817.2 121.5,817.2 122.2,817.2 C122.9,817.1 123.5,817.1 124.2,817.1 C124.9,817.1 125.5,817.0 126.2,817.0 C126.9,817.0 127.5,816.9 128.2,816.9 C128.9,816.8 129.5,816.8 130.2,816.8 C130.9,816.7 131.5,816.7 132.2,816.6 C132.9,816.6 133.5,816.5 134.2,816.4 C134.9,816.4 135.5,816.3 136.2,816.2 C136.9,816.2 137.5,816.1 138.2,816.0 C138.9,815.9 139.5,815.8 140.2,815.8 C140.9,815.7 141.5,815.6 142.2,815.6 C142.9,815.5 143.5,815.4 144.2,815.3 C144.9,815.3 145.5,815.2 146.2,815.1 C146.9,815.0 147.5,814.9 148.2,814.8 C148.9,814.7 149.5,814.7 150.2,814.6 C150.9,814.5 151.5,814.4 152.2,814.3 C152.9,814.2 153.5,814.1 154.2,814.0 C154.9,813.9 155.5,813.7 156.2,813.6 C156.9,813.5 157.5,813.4 158.2,813.3 C158.9,813.2 159.5,813.1 160.2,812.9 C160.9,812.8 161.5,812.7 162.2,812.6 C162.9,812.5 163.5,812.3 164.2,812.2 C164.9,812.1 165.5,812.0 166.2,811.8 C166.9,811.7 167.5,811.6 168.2,811.4 C168.9,811.3 169.5,811.2 170.2,811.0 C170.9,810.9 171.5,810.8 172.2,810.6 C172.9,810.5 173.5,810.4 174.2,810.2 C174.9,810.1 175.5,810.0 176.2,809.8 C176.9,809.7 177.5,809.5 178.2,809.4 C178.9,809.3 179.5,809.1 180.2,809.0 C180.9,808.9 181.5,808.7 182.2,808.6 C182.9,808.5 183.5,808.3 184.2,808.2 C184.9,808.1 185.5,808.0 186.2,807.8 C186.9,807.7 187.5,807.6 188.2,807.5 C188.9,807.3 189.5,807.2 190.2,807.1 C190.9,807.0 191.5,806.8 192.2,806.7 C192.9,806.6 193.5,806.5 194.2,806.4 C194.9,806.2 195.5,806.1 196.2,806.0 C196.9,805.9 197.5,805.8 198.2,805.7 C198.9,805.6 199.5,805.5 200.2,805.4 C200.9,805.3 201.5,805.1 202.2,805.0 C202.9,804.9 203.5,804.8 204.2,804.7 C204.9,804.6 205.5,804.5 206.2,804.4 C206.9,804.3 207.5,804.2 208.2,804.2 C208.9,804.1 209.5,804.0 210.2,803.9 C210.9,803.8 211.5,803.7 212.2,803.6 C212.9,803.5 213.5,803.4 214.2,803.3 C214.9,803.3 215.5,803.2 216.2,803.1 C216.9,803.0 217.5,802.9 218.2,802.8 C218.9,802.8 219.5,802.7 220.2,802.6 C220.9,802.5 221.5,802.4 222.2,802.4 C222.9,802.3 223.5,802.2 224.2,802.2 C224.9,802.1 225.5,802.0 226.2,801.9 C226.9,801.9 227.5,801.8 228.2,801.7 C228.9,801.7 229.5,801.6 230.2,801.6 C230.9,801.5 231.5,801.4 232.2,801.4 C232.9,801.3 233.5,801.3 234.2,801.2 C234.9,801.2 235.5,801.1 236.2,801.1 C236.9,801.0 237.5,801.0 238.2,800.9 C238.9,800.9 239.5,800.8 240.2,800.8 C240.9,800.8 241.5,800.7 242.2,800.7 C242.9,800.7 243.5,800.6 244.2,800.6 C244.9,800.6 245.5,800.6 246.2,800.6 C246.9,800.5 247.5,800.5 248.2,800.5 C248.9,800.5 249.5,800.5 250.2,800.5 C250.9,800.5 251.5,800.5 252.2,800.5 C252.9,800.5 253.5,800.5 254.2,800.5 C254.9,800.5 255.5,800.6 256.2,800.6 C256.9,800.6 257.5,800.6 258.2,800.7 C258.9,800.7 259.5,800.7 260.2,800.8 C260.9,800.8 261.5,800.8 262.2,800.9 C262.9,800.9 263.5,801.0 264.2,801.0 C264.9,801.1 265.5,801.1 266.2,801.2 C266.9,801.3 267.5,801.3 268.2,801.4 C268.9,801.5 269.5,801.5 270.2,801.6 C270.9,801.7 271.5,801.8 272.2,801.8 C272.9,801.9 273.5,802.0 274.2,802.1 C274.9,802.2 275.5,802.3 276.2,802.4 C276.9,802.5 277.5,802.6 278.2,802.7 C278.9,802.8 279.5,802.9 280.2,803.0 C280.9,803.1 281.5,803.2 282.2,803.3 C282.9,803.4 283.5,803.5 284.2,803.6 C284.9,803.7 285.5,803.9 286.2,804.0 C286.9,804.1 287.5,804.2 288.2,804.3 C288.9,804.4 289.5,804.6 290.2,804.7 C290.9,804.8 291.5,804.9 292.2,805.1 C292.9,805.2 293.5,805.3 294.2,805.4 C294.9,805.6 295.5,805.7 296.2,805.8 C296.9,805.9 297.5,806.1 298.2,806.2 C298.9,806.3 299.5,806.4 300.2,806.6 C300.9,806.7 301.5,806.8 302.2,806.9 C302.9,807.1 303.5,807.2 304.2,807.3 C304.9,807.4 305.5,807.5 306.2,807.7 C306.9,807.8 307.5,807.9 308.2,808.0 C308.9,808.1 309.5,808.3 310.2,808.4 C310.9,808.5 311.5,808.6 312.2,808.7 C312.9,808.8 313.5,809.0 314.2,809.1 C314.9,809.2 315.5,809.3 316.2,809.4 C316.9,809.5 317.5,809.6 318.2,809.7 C318.9,809.8 319.5,809.9 320.2,810.0 C320.9,810.1 321.5,810.2 322.2,810.3 C322.9,810.4 323.5,810.5 324.2,810.6 C324.9,810.7 325.5,810.8 326.2,810.9 C326.9,811.0 327.5,811.1 328.2,811.2 C328.9,811.3 329.5,811.4 330.2,811.5 C330.9,811.6 331.5,811.6 332.2,811.7 C332.9,811.8 333.5,811.9 334.2,812.0 C334.9,812.0 335.5,812.1 336.2,812.2 C336.9,812.3 337.5,812.4 338.2,812.4 C338.9,812.5 339.5,812.6 340.2,812.6 C340.9,812.7 341.5,812.8 342.2,812.9 C342.9,812.9 343.5,813.0 344.2,813.1 C344.9,813.1 345.5,813.2 346.2,813.2 C346.9,813.3 347.5,813.4 348.2,813.4 C348.9,813.5 349.5,813.5 350.2,813.6 C350.9,813.7 351.5,813.7 352.2,813.8 C352.9,813.8 353.5,813.9 354.2,813.9 C354.9,814.0 355.5,814.0 356.2,814.1 C356.9,814.1 357.5,814.2 358.2,814.2 C358.9,814.3 359.5,814.3 360.2,814.4 C360.9,814.4 361.5,814.5 362.2,814.5 C362.9,814.6 363.5,814.6 364.2,814.6 C364.9,814.7 365.5,814.7 366.2,814.8 C366.9,814.8 367.5,814.9 368.2,814.9 C368.9,814.9 369.5,815.0 370.2,815.0 C370.9,815.0 371.5,815.1 372.2,815.1 C372.9,815.2 373.5,815.2 374.2,815.2 C374.9,815.3 375.5,815.3 376.2,815.3 C376.9,815.4 377.5,815.4 378.2,815.4 C378.9,815.5 379.5,815.5 380.2,815.5 C380.9,815.6 381.5,815.6 382.2,815.6 C382.9,815.7 383.5,815.7 384.2,815.7 C384.9,815.7 385.5,815.8 386.2,815.8 C386.9,815.8 387.5,815.9 388.2,815.9 C388.9,815.9 389.5,815.9 390.2,816.0 C390.9,816.0 391.5,816.0 392.2,816.0 C392.9,816.1 393.5,816.1 394.2,816.1 C394.9,816.1 395.5,816.2 396.2,816.2 C396.9,816.2 397.5,816.2 398.2,816.3 C398.9,816.3 399.5,816.3 400.2,816.3 C400.9,816.4 401.5,816.4 402.2,816.4 C402.9,816.4 403.5,816.4 404.2,816.5 C404.9,816.5 405.5,816.5 406.2,816.5 C406.9,816.5 407.5,816.6 408.2,816.6 C408.9,816.6 409.5,816.6 410.2,816.6 C410.9,816.6 411.5,816.7 412.2,816.7 C412.9,816.7 413.5,816.7 414.2,816.7 C414.9,816.7 415.5,816.8 416.2,816.8 C416.9,816.8 417.5,816.8 418.2,816.8 C418.9,816.8 419.5,816.9 420.2,816.9 C420.9,816.9 421.5,816.9 422.2,816.9 C422.9,816.9 423.5,816.9 424.2,816.9 C424.9,817.0 425.5,817.0 426.2,817.0 C426.9,817.0 427.5,817.0 428.2,817.0 C428.9,817.0 429.5,817.0 430.2,817.1 C430.9,817.1 431.5,817.1 432.2,817.1 C432.9,817.1 433.5,817.1 434.2,817.1 C434.9,817.1 435.5,817.1 436.2,817.1 C436.9,817.1 437.5,817.2 438.2,817.2 C438.9,817.2 439.5,817.2 440.2,817.2 C440.9,817.2 441.5,817.2 442.2,817.2 C442.9,817.2 443.5,817.2 444.2,817.2 C444.9,817.2 445.5,817.3 446.2,817.3 C446.9,817.3 447.5,817.3 448.2,817.3 C448.9,817.3 449.5,817.3 450.2,817.3 C450.9,817.3 451.5,817.3 452.2,817.3 C452.9,817.3 453.5,817.3 454.2,817.3 C454.9,817.3 455.5,817.3 456.2,817.3 C456.9,817.3 457.5,817.3 458.2,817.4 C458.9,817.4 459.5,817.4 460.2,817.4 C460.9,817.4 461.5,817.4 462.2,817.4 C462.9,817.4 463.5,817.4 464.2,817.4 C464.9,817.4 465.5,817.4 466.2,817.4 C466.9,817.4 467.5,817.4 468.2,817.4 C468.9,817.4 469.5,817.4 470.2,817.4 C470.9,817.4 471.5,817.4 472.2,817.4 C472.9,817.4 473.5,817.4 474.2,817.4 C474.9,817.4 475.5,817.4 476.2,817.4 C476.9,817.4 477.5,817.4 478.2,817.4 C478.9,817.4 479.5,817.4 480.2,817.4 C480.9,817.4 481.5,817.5 482.2,817.5 C482.9,817.5 483.5,817.5 484.2,817.5 C484.9,817.5 485.5,817.5 486.2,817.5 C486.9,817.5 487.5,817.5 488.2,817.5 C488.9,817.5 489.5,817.5 490.2,817.5 C490.9,817.5 491.5,817.5 492.2,817.5 C492.9,817.5 493.5,817.5 494.2,817.5 C494.9,817.5 495.5,817.5 496.2,817.5 C496.9,817.5 497.5,817.5 498.2,817.5 C498.9,817.5 499.5,817.5 500.2,817.5 C500.9,817.5 501.5,817.5 502.2,817.5 C502.9,817.5 503.5,817.5 504.2,817.5 C504.9,817.5 505.5,817.5 506.2,817.5 C506.9,817.5 507.5,817.5 508.2,817.5 C508.9,817.5 509.5,817.5 510.2,817.5 C510.9,817.5 511.5,817.5 512.2,817.5 C512.9,817.5 513.5,817.5 514.2,817.5 C514.9,817.5 515.5,817.5 516.2,817.5 C516.9,817.5 517.5,817.5 518.2,817.5 C518.9,817.5 519.9,817.5 520.2,817.5" fill="none" stroke="#2ca02c" stroke-width="0.9" stroke-opacity="0.75" stroke-linejoin="round"/>
<path d="M160.0,817.5 C161.0,817.4 161.7,817.0 166.0,816.9 C170.3,816.8 182.2,816.9 186.0,816.8 C189.0,816.6 188.1,816.5 189.0,816.0 C189.9,815.5 190.6,814.4 191.5,813.5 C192.4,812.6 193.4,811.5 194.5,810.9 C195.6,810.3 196.8,810.2 197.8,810.1 C198.8,810.0 199.6,810.0 200.5,810.1 C201.4,810.2 202.4,811.2 203.3,810.8 C204.2,810.4 205.1,809.8 205.8,807.8 C206.6,805.8 207.2,802.1 207.8,798.9 C208.4,795.7 208.7,792.1 209.6,788.7 C210.5,785.3 212.1,781.9 213.4,778.5 C214.7,775.1 216.2,772.1 217.3,768.3 C218.4,764.5 219.0,760.2 219.8,755.6 C220.6,751.0 221.6,744.2 222.3,740.4 C223.0,736.6 223.6,734.3 224.1,732.7 C224.6,731.1 225.0,730.7 225.6,730.7 C226.2,730.7 226.7,731.1 227.4,732.7 C228.1,734.3 229.2,738.1 230.0,740.4 C230.8,742.7 231.5,744.8 232.5,746.7 C233.5,748.6 234.8,750.3 235.8,751.8 C236.8,753.3 237.7,753.3 238.4,755.6 C239.1,757.9 239.6,762.0 240.2,765.8 C240.8,769.6 241.3,774.3 241.9,778.5 C242.5,782.7 243.3,787.4 244.0,791.2 C244.7,795.0 245.4,799.1 246.0,801.4 C246.6,803.7 246.9,804.6 247.8,805.2 C248.7,805.8 250.6,804.7 251.6,805.2 C252.6,805.8 253.2,807.2 254.1,808.5 C254.9,809.8 255.8,811.7 256.7,812.9 C257.6,814.1 258.3,815.0 259.2,815.6 C260.1,816.2 260.2,816.2 262.0,816.4 C263.8,816.6 263.7,816.6 270.0,816.6 C276.3,816.6 288.3,816.6 300.0,816.6 C311.7,816.6 331.3,816.6 340.0,816.8 C348.7,816.9 350.0,817.4 352.0,817.5 L352.00,817.50 L160.00,817.50 Z" fill="rgba(214,39,40,0.25)" stroke="none"/>
<path d="M160.0,817.5 C161.0,817.4 161.7,817.0 166.0,816.9 C170.3,816.8 182.2,816.9 186.0,816.8 C189.0,816.6 188.1,816.5 189.0,816.0 C189.9,815.5 190.6,814.4 191.5,813.5 C192.4,812.6 193.4,811.5 194.5,810.9 C195.6,810.3 196.8,810.2 197.8,810.1 C198.8,810.0 199.6,810.0 200.5,810.1 C201.4,810.2 202.4,811.2 203.3,810.8 C204.2,810.4 205.1,809.8 205.8,807.8 C206.6,805.8 207.2,802.1 207.8,798.9 C208.4,795.7 208.7,792.1 209.6,788.7 C210.5,785.3 212.1,781.9 213.4,778.5 C214.7,775.1 216.2,772.1 217.3,768.3 C218.4,764.5 219.0,760.2 219.8,755.6 C220.6,751.0 221.6,744.2 222.3,740.4 C223.0,736.6 223.6,734.3 224.1,732.7 C224.6,731.1 225.0,730.7 225.6,730.7 C226.2,730.7 226.7,731.1 227.4,732.7 C228.1,734.3 229.2,738.1 230.0,740.4 C230.8,742.7 231.5,744.8 232.5,746.7 C233.5,748.6 234.8,750.3 235.8,751.8 C236.8,753.3 237.7,753.3 238.4,755.6 C239.1,757.9 239.6,762.0 240.2,765.8 C240.8,769.6 241.3,774.3 241.9,778.5 C242.5,782.7 243.3,787.4 244.0,791.2 C244.7,795.0 245.4,799.1 246.0,801.4 C246.6,803.7 246.9,804.6 247.8,805.2 C248.7,805.8 250.6,804.7 251.6,805.2 C252.6,805.8 253.2,807.2 254.1,808.5 C254.9,809.8 255.8,811.7 256.7,812.9 C257.6,814.1 258.3,815.0 259.2,815.6 C260.1,816.2 260.2,816.2 262.0,816.4 C263.8,816.6 263.7,816.6 270.0,816.6 C276.3,816.6 288.3,816.6 300.0,816.6 C311.7,816.6 331.3,816.6 340.0,816.8 C348.7,816.9 350.0,817.4 352.0,817.5" fill="none" stroke="#d62728" stroke-width="0.9" stroke-opacity="0.75" stroke-linejoin="round"/>
<path d="M65.90,592.50 H544.10 M65.90,817.50 H544.10 M66.50,592.50 V817.50 M543.50,592.50 V817.50" fill="none" stroke="#9c9c9c" stroke-width="1.2"/>
<g style="font-size:8.50px"><line x1="64.90" y1="817.50" x2="66.50" y2="817.50" stroke="#9c9c9c" stroke-width="1.2"/><text x="63.30" y="821.10" text-anchor="end">0.0</text>
<line x1="64.90" y1="782.47" x2="66.50" y2="782.47" stroke="#9c9c9c" stroke-width="1.2"/><text x="63.30" y="786.07" text-anchor="end">0.1</text>
<line x1="64.90" y1="747.44" x2="66.50" y2="747.44" stroke="#9c9c9c" stroke-width="1.2"/><text x="63.30" y="751.04" text-anchor="end">0.2</text>
<line x1="64.90" y1="712.41" x2="66.50" y2="712.41" stroke="#9c9c9c" stroke-width="1.2"/><text x="63.30" y="716.01" text-anchor="end">0.3</text>
<line x1="64.90" y1="677.38" x2="66.50" y2="677.38" stroke="#9c9c9c" stroke-width="1.2"/><text x="63.30" y="680.98" text-anchor="end">0.4</text>
<line x1="64.90" y1="642.35" x2="66.50" y2="642.35" stroke="#9c9c9c" stroke-width="1.2"/><text x="63.30" y="645.95" text-anchor="end">0.5</text>
<line x1="64.90" y1="607.32" x2="66.50" y2="607.32" stroke="#9c9c9c" stroke-width="1.2"/><text x="63.30" y="610.92" text-anchor="end">0.6</text>
</g>
<g style="font-size:8.50px"><line x1="121.05" y1="817.50" x2="121.05" y2="819.10" stroke="#9c9c9c" stroke-width="1.2"/><text x="121.05" y="827.60" text-anchor="middle">0</text>
<line x1="190.43" y1="817.50" x2="190.43" y2="819.10" stroke="#9c9c9c" stroke-width="1.2"/><text x="190.43" y="827.60" text-anchor="middle">10</text>
<line x1="259.81" y1="817.50" x2="259.81" y2="819.10" stroke="#9c9c9c" stroke-width="1.2"/><text x="259.81" y="827.60" text-anchor="middle">20</text>
<line x1="329.19" y1="817.50" x2="329.19" y2="819.10" stroke="#9c9c9c" stroke-width="1.2"/><text x="329.19" y="827.60" text-anchor="middle">30</text>
<line x1="398.57" y1="817.50" x2="398.57" y2="819.10" stroke="#9c9c9c" stroke-width="1.2"/><text x="398.57" y="827.60" text-anchor="middle">40</text>
<line x1="467.95" y1="817.50" x2="467.95" y2="819.10" stroke="#9c9c9c" stroke-width="1.2"/><text x="467.95" y="827.60" text-anchor="middle">50</text>
<line x1="537.33" y1="817.50" x2="537.33" y2="819.10" stroke="#9c9c9c" stroke-width="1.2"/><text x="537.33" y="827.60" text-anchor="middle">60</text>
</g>
<text x="305.20" y="837.90" text-anchor="middle" style="font-size:9.00px">RL-Control-All</text>
<text transform="translate(46.80,705.50) rotate(-90)" text-anchor="middle" style="font-size:9.00px">Density</text>
<rect x="445.40" y="596.40" width="94.00" height="55.60" rx="2" fill="#fff" fill-opacity="0.8" stroke="#d8d8d8" stroke-width="0.8"/>
<rect x="448.60" y="600.59" width="18.80" height="7.00" fill="rgba(31,119,180,0.25)" stroke="#1f77b4" stroke-opacity="0.6" stroke-width="0.9"/><text x="473.80" y="607.40" style="font-size:9.20px">Linker-LogP</text>
<rect x="448.60" y="613.79" width="18.80" height="7.00" fill="rgba(255,127,14,0.25)" stroke="#ff7f0e" stroke-opacity="0.6" stroke-width="0.9"/><text x="473.80" y="620.60" style="font-size:9.20px">RL-Control-All</text>
<rect x="448.60" y="626.99" width="18.80" height="7.00" fill="rgba(44,160,44,0.25)" stroke="#2ca02c" stroke-opacity="0.6" stroke-width="0.9"/><text x="473.80" y="633.80" style="font-size:9.20px">Linker-Length</text>
<rect x="448.60" y="640.19" width="18.80" height="7.00" fill="rgba(214,39,40,0.25)" stroke="#d62728" stroke-opacity="0.6" stroke-width="0.9"/><text x="473.80" y="647.00" style="font-size:9.20px">RL-Control-All</text>
<text x="5.60" y="604.50" style="font-family:'Liberation Serif',serif;font-weight:bold;font-size:12.5px;fill:#000">C</text>
</svg>
</body></html>
